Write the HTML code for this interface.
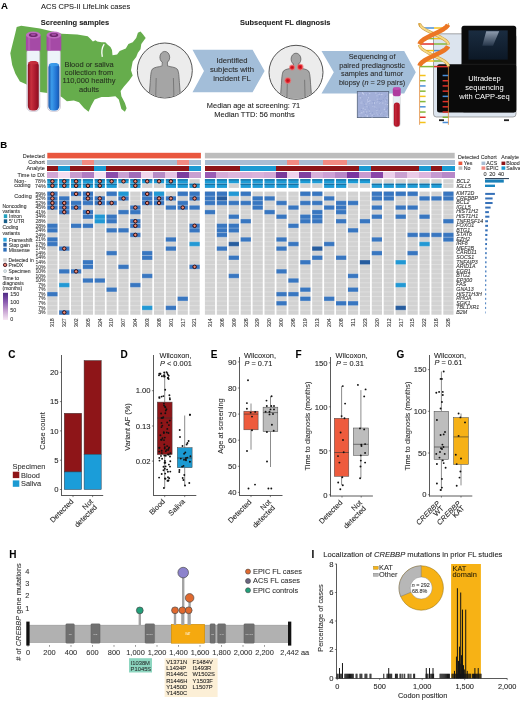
<!DOCTYPE html>
<html><head><meta charset="utf-8"><title>Figure</title>
<style>html,body{margin:0;padding:0;background:#fff;width:520px;height:701px;overflow:hidden}
svg{display:block;font-family:"Liberation Sans", Arial, sans-serif} text{stroke:#222;stroke-width:0.14px;stroke-opacity:0.55} text.w{stroke:none}</style></head>
<body><svg width="520" height="701" viewBox="0 0 520 701">
<rect width="520" height="701" fill="#fff"/>
<g id="A">
<text x="0.9" y="8.8" font-size="9.6" font-weight="bold">A</text>
<text x="41" y="9.3" font-size="7.5" fill="#222">ACS CPS-II LifeLink cases</text>
<text x="75" y="25.3" font-size="7.5" font-weight="bold" text-anchor="middle" fill="#222">Screening samples</text>
<text x="285.2" y="25.3" font-size="7.45" font-weight="bold" text-anchor="middle" fill="#222">Subsequent FL diagnosis</text>
<polygon fill="#66AD4C" points="16.7,27.0 21.2,25.8 40.0,28.5 61.7,33.7 77.3,34.5 87.7,36.2 90.3,38.8 92.9,41.4 95.5,40.2 97.2,41.4 101.5,42.3 105.3,42.3 107.5,44.5 110.5,47.0 112.0,50.0 112.5,55.3 117.1,54.4 119.7,51.0 125.8,48.4 128.4,44.0 132.7,42.3 136.2,38.0 137.9,32.8 140.5,31.6 143.1,34.5 145.7,38.0 143.1,41.4 141.3,44.0 140.5,49.2 137.9,52.7 136.2,57.0 132.7,61.5 131.0,70.2 132.7,75.4 129.2,80.6 124.0,86.6 120.6,91.0 121.4,96.2 124.9,103.1 126.6,108.3 124.9,111.7 121.4,109.1 118.8,99.6 115.4,96.2 108.5,97.0 101.5,97.0 94.6,99.6 91.2,105.7 88.6,111.7 84.2,108.3 79.0,102.2 73.8,100.5 66.9,101.3 61.7,97.0 55.0,94.0 40.0,92.0 25.6,84.1 19.9,81.5 15.4,73.8 12.2,64.9 10.3,53.3 12.2,45.6 15.4,32.8"/>
<path d="M104.2,44.2 C102,47.5 101.3,52 102.3,56.8" fill="none" stroke="#FFFFFF" stroke-width="1.3"/>
<defs><linearGradient id="tg1" x1="0" y1="0" x2="1" y2="0"><stop offset="0" stop-color="#861020"/><stop offset="0.3" stop-color="#C8303E"/><stop offset="0.75" stop-color="#A5162A"/><stop offset="1" stop-color="#861020"/></linearGradient></defs>
<rect x="26.8" y="48" width="13.0" height="63.3" rx="4.5" fill="#EDF3F9" stroke="#BBAFC0" stroke-width="0.6"/>
<rect x="27.8" y="61.0" width="11.0" height="49.6" rx="4.5" fill="url(#tg1)"/>
<ellipse cx="33.3" cy="62.8" rx="4.9" ry="1.6" fill="#C8303E" opacity="0.85"/>
<rect x="25.9" y="34.5" width="14.8" height="16.2" rx="1.5" fill="#A54AA6"/>
<rect x="27.9" y="34.5" width="2.2" height="16.2" fill="#B862B8" opacity="0.7"/>
<ellipse cx="33.3" cy="35.0" rx="7.4" ry="3.5" fill="#BE6EC0"/>
<ellipse cx="33.3" cy="35.0" rx="4.4" ry="2.0" fill="#70286F"/>
<ellipse cx="33.3" cy="34.7" rx="2.4" ry="1.1" fill="#A54AA6"/>
<defs><linearGradient id="tg2" x1="0" y1="0" x2="1" y2="0"><stop offset="0" stop-color="#1A55A8"/><stop offset="0.3" stop-color="#3C9CEB"/><stop offset="0.75" stop-color="#1F6FD0"/><stop offset="1" stop-color="#1A55A8"/></linearGradient></defs>
<rect x="47.4" y="48" width="13.0" height="63.3" rx="4.5" fill="#EDF3F9" stroke="#BBAFC0" stroke-width="0.6"/>
<rect x="48.4" y="62.9" width="11.0" height="47.7" rx="4.5" fill="url(#tg2)"/>
<ellipse cx="53.9" cy="64.7" rx="4.9" ry="1.6" fill="#3C9CEB" opacity="0.85"/>
<rect x="46.5" y="34.5" width="14.8" height="16.2" rx="1.5" fill="#A54AA6"/>
<rect x="48.5" y="34.5" width="2.2" height="16.2" fill="#B862B8" opacity="0.7"/>
<ellipse cx="53.9" cy="35.0" rx="7.4" ry="3.5" fill="#BE6EC0"/>
<ellipse cx="53.9" cy="35.0" rx="4.4" ry="2.0" fill="#70286F"/>
<ellipse cx="53.9" cy="34.7" rx="2.4" ry="1.1" fill="#A54AA6"/>
<text x="89" y="66.6" font-size="7.5" text-anchor="middle" fill="#27361F">Blood or saliva</text>
<text x="89" y="74.9" font-size="7.5" text-anchor="middle" fill="#27361F">collection from</text>
<text x="89" y="83.2" font-size="7.5" text-anchor="middle" fill="#27361F">110,000 healthy</text>
<text x="89" y="91.5" font-size="7.5" text-anchor="middle" fill="#27361F">adults</text>
<clipPath id="c164"><circle cx="0" cy="0" r="27.0"/></clipPath>
<circle cx="164.8" cy="70.5" r="27.5" fill="#ECECEC" stroke="#555555" stroke-width="1.0"/>
<g clip-path="url(#c164)" transform="translate(164.8,70.5)">
<path d="M-2.6,-8 L-2.6,-4.6 C-6,-3.4 -10.5,-3.6 -12.6,-1.2 C-14,1 -14.2,6 -14.6,12 L-16,30 L16,30 L14.6,12 C14.2,6 14,1 12.6,-1.2 C10.5,-3.6 6,-3.4 2.6,-4.6 L2.6,-8 Z" fill="#A5A5A5" stroke="#5A5A5A" stroke-width="0.75"/>
<ellipse cx="0" cy="-13.2" rx="4.9" ry="5.9" fill="#A5A5A5" stroke="#5A5A5A" stroke-width="0.75"/>
<path d="M-2.1,-8.5 L-2.1,-4.2 L2.1,-4.2 L2.1,-8.5Z" fill="#A5A5A5"/>
<path d="M-8.6,7.5 L-9.2,30 M8.6,7.5 L9.2,30" stroke="#5A5A5A" stroke-width="0.6" fill="none"/>
</g>
<clipPath id="c296"><circle cx="0" cy="0" r="26.5"/></clipPath>
<circle cx="296.0" cy="72.3" r="27.0" fill="#ECECEC" stroke="#555555" stroke-width="1.0"/>
<g clip-path="url(#c296)" transform="translate(296.0,72.3)">
<path d="M-2.6,-8 L-2.6,-4.6 C-6,-3.4 -10.5,-3.6 -12.6,-1.2 C-14,1 -14.2,6 -14.6,12 L-16,30 L16,30 L14.6,12 C14.2,6 14,1 12.6,-1.2 C10.5,-3.6 6,-3.4 2.6,-4.6 L2.6,-8 Z" fill="#A5A5A5" stroke="#5A5A5A" stroke-width="0.75"/>
<ellipse cx="0" cy="-13.2" rx="4.9" ry="5.9" fill="#A5A5A5" stroke="#5A5A5A" stroke-width="0.75"/>
<path d="M-2.1,-8.5 L-2.1,-4.2 L2.1,-4.2 L2.1,-8.5Z" fill="#A5A5A5"/>
<path d="M-8.6,7.5 L-9.2,30 M8.6,7.5 L9.2,30" stroke="#5A5A5A" stroke-width="0.6" fill="none"/>
<circle cx="-3.9" cy="-4.9" r="3.0" fill="#F26A6A" opacity="0.75"/>
<circle cx="-3.9" cy="-4.9" r="2.0" fill="#E3202A"/>
<circle cx="-3.9" cy="-4.9" r="0.9" fill="#B5121C"/>
<circle cx="4.2" cy="-5.2" r="3.3" fill="#F26A6A" opacity="0.75"/>
<circle cx="4.2" cy="-5.2" r="2.3" fill="#E3202A"/>
<circle cx="4.2" cy="-5.2" r="1.0" fill="#B5121C"/>
<circle cx="-8.2" cy="8.3" r="3.4" fill="#F26A6A" opacity="0.75"/>
<circle cx="-8.2" cy="8.3" r="2.4" fill="#E3202A"/>
<circle cx="-8.2" cy="8.3" r="1.1" fill="#B5121C"/>
</g>
<polygon fill="#A3BED9" points="192.5,49.8 252.6,49.8 264.6,71.0 252.6,92.3 192.5,92.3 204.0,71.0"/>
<polygon fill="#A3BED9" points="321.5,51.0 404.2,51.0 415.8,72.2 404.2,93.4 321.5,93.4 333.8,72.2"/>
<text x="232" y="63.0" font-size="7.7" text-anchor="middle" fill="#2B2B2B">Identified</text>
<text x="232" y="72.2" font-size="7.7" text-anchor="middle" fill="#2B2B2B">subjects with</text>
<text x="232" y="81.3" font-size="7.7" text-anchor="middle" fill="#2B2B2B">incident FL</text>
<text x="372.1" y="59.0" font-size="7.3" text-anchor="middle" fill="#2B2B2B">Sequencing of</text>
<text x="372.1" y="67.6" font-size="7.3" text-anchor="middle" fill="#2B2B2B">paired prediagnostic</text>
<text x="372.1" y="76.2" font-size="7.3" text-anchor="middle" fill="#2B2B2B">samples and tumor</text>
<text x="372.1" y="84.8" font-size="7.3" text-anchor="middle" fill="#2B2B2B">biopsy (<tspan font-style="italic">n</tspan> = 29 pairs)</text>
<text x="253.5" y="108.3" font-size="7.4" text-anchor="middle" fill="#222">Median age at screening: 71</text>
<text x="254.5" y="117.0" font-size="7.5" text-anchor="middle" fill="#222">Median TTD: 56 months</text>
<rect x="357.3" y="91.4" width="31.4" height="26.2" fill="#A2AFD8" stroke="#56657E" stroke-width="0.8"/>
<rect x="376.6" y="110.5" width="0.9" height="0.9" fill="#D0D8F0"/><rect x="359.1" y="103.7" width="0.9" height="0.9" fill="#B8C3E6"/><rect x="377.4" y="114.4" width="0.9" height="0.9" fill="#C4CDEC"/><rect x="369.2" y="113.6" width="0.9" height="0.9" fill="#95A3D0"/><rect x="374.3" y="106.4" width="0.9" height="0.9" fill="#C4CDEC"/><rect x="379.8" y="102.3" width="0.9" height="0.9" fill="#B8C3E6"/><rect x="385.3" y="111.1" width="0.9" height="0.9" fill="#B8C3E6"/><rect x="380.8" y="94.1" width="0.9" height="0.9" fill="#D0D8F0"/><rect x="376.5" y="95.4" width="0.9" height="0.9" fill="#C4CDEC"/><rect x="387.0" y="92.4" width="0.9" height="0.9" fill="#B8C3E6"/><rect x="386.6" y="96.4" width="0.9" height="0.9" fill="#B8C3E6"/><rect x="366.8" y="115.9" width="0.9" height="0.9" fill="#D0D8F0"/><rect x="384.1" y="107.6" width="0.9" height="0.9" fill="#B8C3E6"/><rect x="386.1" y="109.2" width="0.9" height="0.9" fill="#95A3D0"/><rect x="367.0" y="101.1" width="0.9" height="0.9" fill="#B8C3E6"/><rect x="385.9" y="98.8" width="0.9" height="0.9" fill="#8C9BCB"/><rect x="367.1" y="107.1" width="0.9" height="0.9" fill="#C4CDEC"/><rect x="375.8" y="109.6" width="0.9" height="0.9" fill="#C4CDEC"/><rect x="367.4" y="112.4" width="0.9" height="0.9" fill="#95A3D0"/><rect x="378.8" y="96.8" width="0.9" height="0.9" fill="#95A3D0"/><rect x="379.1" y="93.7" width="0.9" height="0.9" fill="#C4CDEC"/><rect x="386.3" y="101.1" width="0.9" height="0.9" fill="#95A3D0"/><rect x="358.7" y="111.6" width="0.9" height="0.9" fill="#8C9BCB"/><rect x="369.3" y="112.9" width="0.9" height="0.9" fill="#95A3D0"/><rect x="359.6" y="96.7" width="0.9" height="0.9" fill="#B8C3E6"/><rect x="361.7" y="98.3" width="0.9" height="0.9" fill="#95A3D0"/><rect x="368.4" y="101.0" width="0.9" height="0.9" fill="#D0D8F0"/><rect x="365.6" y="103.6" width="0.9" height="0.9" fill="#D0D8F0"/><rect x="380.4" y="111.8" width="0.9" height="0.9" fill="#8C9BCB"/><rect x="359.3" y="115.5" width="0.9" height="0.9" fill="#C4CDEC"/><rect x="364.4" y="104.9" width="0.9" height="0.9" fill="#8C9BCB"/><rect x="385.4" y="100.6" width="0.9" height="0.9" fill="#D0D8F0"/><rect x="360.9" y="109.1" width="0.9" height="0.9" fill="#8C9BCB"/><rect x="363.5" y="94.2" width="0.9" height="0.9" fill="#B8C3E6"/><rect x="379.5" y="99.9" width="0.9" height="0.9" fill="#95A3D0"/><rect x="363.0" y="93.5" width="0.9" height="0.9" fill="#D0D8F0"/><rect x="374.0" y="102.2" width="0.9" height="0.9" fill="#B8C3E6"/><rect x="380.1" y="100.7" width="0.9" height="0.9" fill="#8C9BCB"/><rect x="371.7" y="102.6" width="0.9" height="0.9" fill="#C4CDEC"/><rect x="387.2" y="107.9" width="0.9" height="0.9" fill="#95A3D0"/><rect x="368.1" y="97.4" width="0.9" height="0.9" fill="#D0D8F0"/><rect x="386.3" y="107.7" width="0.9" height="0.9" fill="#95A3D0"/><rect x="361.4" y="102.9" width="0.9" height="0.9" fill="#B8C3E6"/><rect x="359.9" y="102.6" width="0.9" height="0.9" fill="#B8C3E6"/><rect x="371.6" y="116.8" width="0.9" height="0.9" fill="#B8C3E6"/><rect x="387.1" y="103.4" width="0.9" height="0.9" fill="#95A3D0"/><rect x="378.6" y="100.1" width="0.9" height="0.9" fill="#8C9BCB"/><rect x="366.8" y="102.2" width="0.9" height="0.9" fill="#B8C3E6"/><rect x="361.5" y="112.4" width="0.9" height="0.9" fill="#D0D8F0"/><rect x="386.6" y="107.7" width="0.9" height="0.9" fill="#95A3D0"/><rect x="383.9" y="96.7" width="0.9" height="0.9" fill="#95A3D0"/><rect x="366.3" y="111.5" width="0.9" height="0.9" fill="#D0D8F0"/><rect x="368.9" y="111.6" width="0.9" height="0.9" fill="#8C9BCB"/><rect x="378.8" y="108.6" width="0.9" height="0.9" fill="#8C9BCB"/><rect x="369.0" y="109.6" width="0.9" height="0.9" fill="#8C9BCB"/><rect x="382.9" y="98.8" width="0.9" height="0.9" fill="#8C9BCB"/><rect x="386.5" y="100.6" width="0.9" height="0.9" fill="#B8C3E6"/><rect x="375.4" y="92.6" width="0.9" height="0.9" fill="#D0D8F0"/><rect x="381.1" y="100.3" width="0.9" height="0.9" fill="#8C9BCB"/><rect x="371.9" y="112.3" width="0.9" height="0.9" fill="#8C9BCB"/><rect x="368.5" y="108.1" width="0.9" height="0.9" fill="#95A3D0"/><rect x="368.6" y="113.0" width="0.9" height="0.9" fill="#95A3D0"/><rect x="387.1" y="115.7" width="0.9" height="0.9" fill="#D0D8F0"/><rect x="362.4" y="116.3" width="0.9" height="0.9" fill="#B8C3E6"/><rect x="383.0" y="115.3" width="0.9" height="0.9" fill="#95A3D0"/><rect x="366.6" y="94.2" width="0.9" height="0.9" fill="#95A3D0"/><rect x="363.3" y="111.4" width="0.9" height="0.9" fill="#D0D8F0"/><rect x="373.5" y="115.2" width="0.9" height="0.9" fill="#8C9BCB"/><rect x="376.7" y="111.3" width="0.9" height="0.9" fill="#8C9BCB"/><rect x="379.5" y="93.0" width="0.9" height="0.9" fill="#B8C3E6"/><rect x="375.6" y="107.6" width="0.9" height="0.9" fill="#B8C3E6"/><rect x="364.7" y="109.1" width="0.9" height="0.9" fill="#C4CDEC"/><rect x="387.4" y="116.3" width="0.9" height="0.9" fill="#B8C3E6"/><rect x="359.8" y="95.6" width="0.9" height="0.9" fill="#8C9BCB"/><rect x="386.9" y="104.1" width="0.9" height="0.9" fill="#D0D8F0"/><rect x="359.3" y="103.7" width="0.9" height="0.9" fill="#95A3D0"/><rect x="377.8" y="94.1" width="0.9" height="0.9" fill="#B8C3E6"/><rect x="365.2" y="114.4" width="0.9" height="0.9" fill="#C4CDEC"/><rect x="368.6" y="115.6" width="0.9" height="0.9" fill="#95A3D0"/><rect x="383.8" y="109.2" width="0.9" height="0.9" fill="#D0D8F0"/><rect x="369.3" y="93.2" width="0.9" height="0.9" fill="#D0D8F0"/><rect x="367.1" y="99.5" width="0.9" height="0.9" fill="#D0D8F0"/><rect x="368.2" y="106.5" width="0.9" height="0.9" fill="#8C9BCB"/><rect x="382.4" y="102.6" width="0.9" height="0.9" fill="#D0D8F0"/><rect x="377.2" y="101.4" width="0.9" height="0.9" fill="#B8C3E6"/><rect x="362.8" y="101.7" width="0.9" height="0.9" fill="#95A3D0"/><rect x="386.5" y="116.0" width="0.9" height="0.9" fill="#D0D8F0"/><rect x="360.9" y="112.4" width="0.9" height="0.9" fill="#C4CDEC"/><rect x="369.5" y="100.3" width="0.9" height="0.9" fill="#D0D8F0"/><rect x="374.2" y="100.3" width="0.9" height="0.9" fill="#D0D8F0"/><rect x="369.3" y="102.9" width="0.9" height="0.9" fill="#B8C3E6"/><rect x="372.8" y="104.0" width="0.9" height="0.9" fill="#95A3D0"/><rect x="369.6" y="113.2" width="0.9" height="0.9" fill="#B8C3E6"/><rect x="375.8" y="98.7" width="0.9" height="0.9" fill="#8C9BCB"/><rect x="372.9" y="102.5" width="0.9" height="0.9" fill="#8C9BCB"/><rect x="386.2" y="99.8" width="0.9" height="0.9" fill="#8C9BCB"/><rect x="362.4" y="92.9" width="0.9" height="0.9" fill="#D0D8F0"/><rect x="386.6" y="98.3" width="0.9" height="0.9" fill="#C4CDEC"/><rect x="381.3" y="112.6" width="0.9" height="0.9" fill="#C4CDEC"/><rect x="372.4" y="106.0" width="0.9" height="0.9" fill="#B8C3E6"/><rect x="385.9" y="111.5" width="0.9" height="0.9" fill="#B8C3E6"/><rect x="372.7" y="113.0" width="0.9" height="0.9" fill="#8C9BCB"/><rect x="366.9" y="107.2" width="0.9" height="0.9" fill="#95A3D0"/><rect x="373.5" y="113.5" width="0.9" height="0.9" fill="#C4CDEC"/><rect x="358.7" y="95.4" width="0.9" height="0.9" fill="#8C9BCB"/><rect x="374.0" y="100.5" width="0.9" height="0.9" fill="#8C9BCB"/><rect x="379.8" y="93.0" width="0.9" height="0.9" fill="#8C9BCB"/><rect x="368.9" y="110.6" width="0.9" height="0.9" fill="#D0D8F0"/><rect x="362.1" y="92.4" width="0.9" height="0.9" fill="#D0D8F0"/><rect x="371.7" y="114.8" width="0.9" height="0.9" fill="#D0D8F0"/><rect x="363.9" y="102.8" width="0.9" height="0.9" fill="#95A3D0"/><rect x="375.8" y="109.2" width="0.9" height="0.9" fill="#95A3D0"/><rect x="383.6" y="112.9" width="0.9" height="0.9" fill="#95A3D0"/><rect x="369.8" y="113.2" width="0.9" height="0.9" fill="#B8C3E6"/><rect x="384.8" y="103.7" width="0.9" height="0.9" fill="#C4CDEC"/><rect x="367.2" y="92.4" width="0.9" height="0.9" fill="#95A3D0"/><rect x="375.4" y="108.2" width="0.9" height="0.9" fill="#95A3D0"/><rect x="385.2" y="95.8" width="0.9" height="0.9" fill="#95A3D0"/><rect x="378.8" y="114.1" width="0.9" height="0.9" fill="#8C9BCB"/><rect x="374.1" y="102.7" width="0.9" height="0.9" fill="#D0D8F0"/><rect x="382.2" y="94.0" width="0.9" height="0.9" fill="#B8C3E6"/><rect x="366.1" y="94.4" width="0.9" height="0.9" fill="#C4CDEC"/><rect x="377.8" y="92.9" width="0.9" height="0.9" fill="#95A3D0"/><rect x="387.2" y="116.8" width="0.9" height="0.9" fill="#95A3D0"/><rect x="359.6" y="112.9" width="0.9" height="0.9" fill="#B8C3E6"/><rect x="376.4" y="112.5" width="0.9" height="0.9" fill="#C4CDEC"/><rect x="379.3" y="95.6" width="0.9" height="0.9" fill="#8C9BCB"/><rect x="379.1" y="103.0" width="0.9" height="0.9" fill="#B8C3E6"/><rect x="376.3" y="102.4" width="0.9" height="0.9" fill="#B8C3E6"/><rect x="360.2" y="97.5" width="0.9" height="0.9" fill="#D0D8F0"/><rect x="361.4" y="101.6" width="0.9" height="0.9" fill="#C4CDEC"/><rect x="366.5" y="106.3" width="0.9" height="0.9" fill="#C4CDEC"/><rect x="380.2" y="113.8" width="0.9" height="0.9" fill="#B8C3E6"/><rect x="358.5" y="94.5" width="0.9" height="0.9" fill="#D0D8F0"/><rect x="372.7" y="101.0" width="0.9" height="0.9" fill="#8C9BCB"/><rect x="385.3" y="95.7" width="0.9" height="0.9" fill="#8C9BCB"/><rect x="362.7" y="107.8" width="0.9" height="0.9" fill="#D0D8F0"/><rect x="366.8" y="115.4" width="0.9" height="0.9" fill="#D0D8F0"/><rect x="376.6" y="98.7" width="0.9" height="0.9" fill="#D0D8F0"/><rect x="365.2" y="112.7" width="0.9" height="0.9" fill="#8C9BCB"/>
<rect x="393.2" y="94" width="7.2" height="33" rx="3.4" fill="#E4EEF4" stroke="#C8C8C8" stroke-width="0.4"/>
<rect x="393.8" y="102.6" width="6.0" height="24.2" rx="3.0" fill="#B3172A"/>
<rect x="395.2" y="104" width="1.3" height="21" fill="#C83040" opacity="0.8"/>
<rect x="392.8" y="87.6" width="7.9" height="8.7" rx="2" fill="#AE3A9E"/>
<ellipse cx="396.75" cy="88.6" rx="3.9" ry="1.4" fill="#C050B0"/>
<rect x="433.5" y="33.8" width="82.5" height="83.2" rx="3" fill="#DCE4EE" stroke="#6E6E6E" stroke-width="0.6"/>
<rect x="461.5" y="25.8" width="54.7" height="86.5" rx="2.5" fill="#0A0A0A"/>
<rect x="437" y="64.3" width="79.2" height="48.3" rx="2.5" fill="#0A0A0A"/>
<line x1="461.5" y1="64.3" x2="516" y2="64.3" stroke="#2A2A2A" stroke-width="0.6"/>
<defs><linearGradient id="scr" x1="0" y1="0" x2="0" y2="1"><stop offset="0" stop-color="#1A2C40"/><stop offset="1" stop-color="#0C1826"/></linearGradient><linearGradient id="hl" x1="0" y1="0" x2="0" y2="1"><stop offset="0" stop-color="#8E9CAE"/><stop offset="1" stop-color="#26364A"/></linearGradient></defs>
<rect x="468.5" y="30.4" width="39.2" height="29.2" fill="url(#scr)"/>
<polygon points="486.2,31.2 499.2,31.2 493,45.8 482.3,45.8" fill="url(#hl)"/>
<rect x="439" y="119.3" width="5" height="1.8" fill="#222"/><rect x="504" y="119.3" width="5" height="1.8" fill="#222"/>
<text x="484.5" y="80.8" font-size="7.5" text-anchor="middle" fill="#FFFFFF" class="w">Ultradeep</text>
<text x="484.5" y="89.8" font-size="7.5" text-anchor="middle" fill="#FFFFFF" class="w">sequencing</text>
<text x="484.5" y="98.8" font-size="7.5" text-anchor="middle" fill="#FFFFFF" class="w">with CAPP-seq</text>
<line x1="422.97" y1="28.00" x2="434.00" y2="28.00" stroke="#4A8FD8" stroke-width="1.5"/>
<line x1="434.00" y1="28.00" x2="445.03" y2="28.00" stroke="#F4C21C" stroke-width="1.5"/>
<line x1="432.33" y1="33.20" x2="434.00" y2="33.20" stroke="#F4C21C" stroke-width="1.5"/>
<line x1="434.00" y1="33.20" x2="435.67" y2="33.20" stroke="#86B83A" stroke-width="1.5"/>
<line x1="425.07" y1="38.60" x2="434.00" y2="38.60" stroke="#86B83A" stroke-width="1.5"/>
<line x1="434.00" y1="38.60" x2="442.93" y2="38.60" stroke="#F4C21C" stroke-width="1.5"/>
<line x1="419.70" y1="44.00" x2="434.00" y2="44.00" stroke="#E0302A" stroke-width="1.5"/>
<line x1="434.00" y1="44.00" x2="448.30" y2="44.00" stroke="#86B83A" stroke-width="1.5"/>
<line x1="424.43" y1="50.60" x2="434.00" y2="50.60" stroke="#F4C21C" stroke-width="1.5"/>
<line x1="434.00" y1="50.60" x2="443.57" y2="50.60" stroke="#4A8FD8" stroke-width="1.5"/>
<line x1="423.82" y1="61.00" x2="434.00" y2="61.00" stroke="#F4C21C" stroke-width="1.5"/>
<line x1="434.00" y1="61.00" x2="444.18" y2="61.00" stroke="#86B83A" stroke-width="1.5"/>
<line x1="419.61" y1="66.60" x2="434.00" y2="66.60" stroke="#86B83A" stroke-width="1.5"/>
<line x1="434.00" y1="66.60" x2="448.39" y2="66.60" stroke="#E0302A" stroke-width="1.5"/>
<polyline fill="none" stroke="#C9963E" stroke-width="3.0" points="419.60,23.20 419.64,23.70 419.75,24.20 419.94,24.70 420.20,25.20 420.54,25.70 420.95,26.20 421.43,26.70 421.97,27.20 422.58,27.70 423.24,28.20 423.97,28.70 424.74,29.20 425.57,29.70 426.44,30.20 427.35,30.70 428.30,31.20 429.27,31.70 430.27,32.20 431.29,32.70 432.33,33.20 433.37,33.70 434.42,34.20 435.46,34.70 436.50,35.20 437.52,35.70 438.53,36.20 439.51,36.70 440.46,37.20 441.38,37.70 442.26,38.20 443.09,38.70 443.88,39.20 444.62,39.70 445.30,40.20 445.91,40.70 446.47,41.20 446.96,41.70 447.38,42.20 447.73,42.70 448.01,43.20 448.22,43.70 448.35,44.20 448.40,44.70"/>
<polyline fill="none" stroke="#F7D982" stroke-width="2.0" points="419.60,23.20 419.64,23.70 419.75,24.20 419.94,24.70 420.20,25.20 420.54,25.70 420.95,26.20 421.43,26.70 421.97,27.20 422.58,27.70 423.24,28.20 423.97,28.70 424.74,29.20 425.57,29.70 426.44,30.20 427.35,30.70 428.30,31.20 429.27,31.70 430.27,32.20 431.29,32.70 432.33,33.20 433.37,33.70 434.42,34.20 435.46,34.70 436.50,35.20 437.52,35.70 438.53,36.20 439.51,36.70 440.46,37.20 441.38,37.70 442.26,38.20 443.09,38.70 443.88,39.20 444.62,39.70 445.30,40.20 445.91,40.70 446.47,41.20 446.96,41.70 447.38,42.20 447.73,42.70 448.01,43.20 448.22,43.70 448.35,44.20 448.40,44.70"/>
<polyline fill="none" stroke="#C9963E" stroke-width="3.0" points="419.60,44.80 419.64,45.30 419.75,45.80 419.94,46.30 420.20,46.80 420.54,47.30 420.95,47.80 421.43,48.30 421.97,48.80 422.58,49.30 423.24,49.80 423.97,50.30 424.74,50.80 425.57,51.30 426.44,51.80 427.35,52.30 428.30,52.80 429.27,53.30 430.27,53.80 431.29,54.30 432.33,54.80 433.37,55.30 434.42,55.80 435.46,56.30 436.50,56.80 437.52,57.30 438.53,57.80 439.51,58.30 440.46,58.80 441.38,59.30 442.26,59.80 443.09,60.30 443.88,60.80 444.62,61.30 445.30,61.80 445.91,62.30 446.47,62.80 446.96,63.30 447.38,63.80 447.73,64.30 448.01,64.80 448.22,65.30 448.35,65.80 448.40,66.30"/>
<polyline fill="none" stroke="#F7D982" stroke-width="2.0" points="419.60,44.80 419.64,45.30 419.75,45.80 419.94,46.30 420.20,46.80 420.54,47.30 420.95,47.80 421.43,48.30 421.97,48.80 422.58,49.30 423.24,49.80 423.97,50.30 424.74,50.80 425.57,51.30 426.44,51.80 427.35,52.30 428.30,52.80 429.27,53.30 430.27,53.80 431.29,54.30 432.33,54.80 433.37,55.30 434.42,55.80 435.46,56.30 436.50,56.80 437.52,57.30 438.53,57.80 439.51,58.30 440.46,58.80 441.38,59.30 442.26,59.80 443.09,60.30 443.88,60.80 444.62,61.30 445.30,61.80 445.91,62.30 446.47,62.80 446.96,63.30 447.38,63.80 447.73,64.30 448.01,64.80 448.22,65.30 448.35,65.80 448.40,66.30"/>
<line x1="419.6" y1="66.4" x2="419.6" y2="124.8" stroke="#E08A3A" stroke-width="0.8"/>
<line x1="448.4" y1="66.4" x2="448.4" y2="124.8" stroke="#E08A3A" stroke-width="0.8"/>
<line x1="419.6" y1="23" x2="419.6" y2="27" stroke="#D49A3A" stroke-width="0.8"/>
<line x1="448.4" y1="23" x2="448.4" y2="27" stroke="#D49A3A" stroke-width="0.8"/>
<polyline fill="none" stroke="#EC7624" stroke-width="4.6" stroke-linecap="butt" points="448.06,24.70 447.80,25.20 447.46,25.70 447.05,26.20 446.57,26.70 446.03,27.20 445.42,27.70 444.76,28.20 444.03,28.70 443.26,29.20 442.43,29.70 441.56,30.20 440.65,30.70 439.70,31.20 438.73,31.70 437.73,32.20 436.71,32.70 435.67,33.20 434.63,33.70 433.58,34.20 432.54,34.70 431.50,35.20 430.48,35.70 429.47,36.20 428.49,36.70 427.54,37.20 426.62,37.70 425.74,38.20 424.91,38.70 424.12,39.20 423.38,39.70 422.70,40.20 422.09,40.70 421.53,41.20 421.04,41.70 420.62,42.20 420.27,42.70 419.99,43.20 419.78,43.70 419.65,44.20"/>
<polyline fill="none" stroke="#EC7624" stroke-width="4.6" stroke-linecap="butt" points="448.06,46.30 447.80,46.80 447.46,47.30 447.05,47.80 446.57,48.30 446.03,48.80 445.42,49.30 444.76,49.80 444.03,50.30 443.26,50.80 442.43,51.30 441.56,51.80 440.65,52.30 439.70,52.80 438.73,53.30 437.73,53.80 436.71,54.30 435.67,54.80 434.63,55.30 433.58,55.80 432.54,56.30 431.50,56.80 430.48,57.30 429.47,57.80 428.49,58.30 427.54,58.80 426.62,59.30 425.74,59.80 424.91,60.30 424.12,60.80 423.38,61.30 422.70,61.80 422.09,62.30 421.53,62.80 421.04,63.30 420.62,63.80 420.27,64.30 419.99,64.80 419.78,65.30 419.65,65.80"/>
<line x1="420" y1="75.50" x2="425.6" y2="75.50" stroke="#F4C21C" stroke-width="1.5"/>
<line x1="442.6" y1="75.50" x2="448.2" y2="75.50" stroke="#4A8FD8" stroke-width="1.5"/>
<line x1="420" y1="80.72" x2="425.6" y2="80.72" stroke="#86B83A" stroke-width="1.5"/>
<line x1="442.6" y1="80.72" x2="448.2" y2="80.72" stroke="#E0302A" stroke-width="1.5"/>
<line x1="420" y1="85.94" x2="425.6" y2="85.94" stroke="#4A8FD8" stroke-width="1.5"/>
<line x1="442.6" y1="85.94" x2="448.2" y2="85.94" stroke="#E0302A" stroke-width="1.5"/>
<line x1="420" y1="91.16" x2="425.6" y2="91.16" stroke="#86B83A" stroke-width="1.5"/>
<line x1="442.6" y1="91.16" x2="448.2" y2="91.16" stroke="#E0302A" stroke-width="1.5"/>
<line x1="420" y1="96.38" x2="425.6" y2="96.38" stroke="#F4C21C" stroke-width="1.5"/>
<line x1="442.6" y1="96.38" x2="448.2" y2="96.38" stroke="#4A8FD8" stroke-width="1.5"/>
<line x1="420" y1="101.60" x2="425.6" y2="101.60" stroke="#86B83A" stroke-width="1.5"/>
<line x1="442.6" y1="101.60" x2="448.2" y2="101.60" stroke="#E0302A" stroke-width="1.5"/>
<line x1="420" y1="106.82" x2="425.6" y2="106.82" stroke="#4A8FD8" stroke-width="1.5"/>
<line x1="442.6" y1="106.82" x2="448.2" y2="106.82" stroke="#E0302A" stroke-width="1.5"/>
<line x1="420" y1="112.04" x2="425.6" y2="112.04" stroke="#86B83A" stroke-width="1.5"/>
<line x1="442.6" y1="112.04" x2="448.2" y2="112.04" stroke="#E0302A" stroke-width="1.5"/>
<line x1="420" y1="117.26" x2="425.6" y2="117.26" stroke="#E0302A" stroke-width="1.5"/>
<line x1="442.6" y1="117.26" x2="448.2" y2="117.26" stroke="#86B83A" stroke-width="1.5"/>
<line x1="420" y1="122.48" x2="425.6" y2="122.48" stroke="#F4C21C" stroke-width="1.5"/>
<line x1="442.6" y1="122.48" x2="448.2" y2="122.48" stroke="#4A8FD8" stroke-width="1.5"/>
</g>
<g id="B">
<text x="0.2" y="147.5" font-size="9.6" font-weight="bold">B</text>
<text x="44.8" y="157.6" font-size="5.5" text-anchor="end" fill="#333">Detected</text>
<text x="44.8" y="163.9" font-size="5.5" text-anchor="end" fill="#333">Cohort</text>
<text x="44.8" y="170.4" font-size="5.5" text-anchor="end" fill="#333">Analyte</text>
<text x="44.8" y="176.9" font-size="5.5" text-anchor="end" fill="#333">Time to DX</text>
<rect x="47.3" y="152.8" width="153.6" height="5.6" fill="#E9573E"/>
<rect x="204.9" y="152.8" width="249.8" height="5.6" fill="#BDBDBD"/>
<rect x="47.30" y="159.60" width="34.75" height="5.30" fill="#A9BDD3" shape-rendering="crispEdges"/>
<rect x="82.00" y="159.60" width="11.90" height="5.30" fill="#F28A82" shape-rendering="crispEdges"/>
<rect x="93.85" y="159.60" width="83.00" height="5.30" fill="#A9BDD3" shape-rendering="crispEdges"/>
<rect x="176.80" y="159.60" width="11.90" height="5.30" fill="#F28A82" shape-rendering="crispEdges"/>
<rect x="188.65" y="159.60" width="12.25" height="5.30" fill="#A9BDD3" shape-rendering="crispEdges"/>
<rect x="204.90" y="159.60" width="82.57" height="5.30" fill="#A9BDD3" shape-rendering="crispEdges"/>
<rect x="287.49" y="159.60" width="11.90" height="5.30" fill="#F28A82" shape-rendering="crispEdges"/>
<rect x="299.41" y="159.60" width="23.82" height="5.30" fill="#A9BDD3" shape-rendering="crispEdges"/>
<rect x="323.25" y="159.60" width="23.82" height="5.30" fill="#F28A82" shape-rendering="crispEdges"/>
<rect x="347.09" y="159.60" width="107.61" height="5.30" fill="#A9BDD3" shape-rendering="crispEdges"/>
<rect x="47.30" y="165.90" width="11.05" height="5.30" fill="#8E1518" shape-rendering="crispEdges"/>
<rect x="58.30" y="165.90" width="11.90" height="5.30" fill="#1B9AD2" shape-rendering="crispEdges"/>
<rect x="70.15" y="165.90" width="23.75" height="5.30" fill="#8E1518" shape-rendering="crispEdges"/>
<rect x="93.85" y="165.90" width="11.90" height="5.30" fill="#1B9AD2" shape-rendering="crispEdges"/>
<rect x="105.70" y="165.90" width="83.00" height="5.30" fill="#8E1518" shape-rendering="crispEdges"/>
<rect x="188.65" y="165.90" width="12.25" height="5.30" fill="#1B9AD2" shape-rendering="crispEdges"/>
<rect x="204.90" y="165.90" width="34.89" height="5.30" fill="#8E1518" shape-rendering="crispEdges"/>
<rect x="239.81" y="165.90" width="35.74" height="5.30" fill="#1B9AD2" shape-rendering="crispEdges"/>
<rect x="275.57" y="165.90" width="83.42" height="5.30" fill="#8E1518" shape-rendering="crispEdges"/>
<rect x="359.01" y="165.90" width="11.90" height="5.30" fill="#1B9AD2" shape-rendering="crispEdges"/>
<rect x="370.93" y="165.90" width="47.66" height="5.30" fill="#8E1518" shape-rendering="crispEdges"/>
<rect x="418.61" y="165.90" width="11.90" height="5.30" fill="#1B9AD2" shape-rendering="crispEdges"/>
<rect x="430.53" y="165.90" width="11.90" height="5.30" fill="#8E1518" shape-rendering="crispEdges"/>
<rect x="442.45" y="165.90" width="12.25" height="5.30" fill="#1B9AD2" shape-rendering="crispEdges"/>
<rect x="47.30" y="172.40" width="11.05" height="5.30" fill="#D2A6D6" shape-rendering="crispEdges"/>
<rect x="58.30" y="172.40" width="11.90" height="5.30" fill="#F4DDF0" shape-rendering="crispEdges"/>
<rect x="70.15" y="172.40" width="11.90" height="5.30" fill="#C89BCF" shape-rendering="crispEdges"/>
<rect x="82.00" y="172.40" width="11.90" height="5.30" fill="#B07CC2" shape-rendering="crispEdges"/>
<rect x="93.85" y="172.40" width="11.90" height="5.30" fill="#F5E1F2" shape-rendering="crispEdges"/>
<rect x="105.70" y="172.40" width="11.90" height="5.30" fill="#8A4CAA" shape-rendering="crispEdges"/>
<rect x="117.55" y="172.40" width="11.90" height="5.30" fill="#C9A0D2" shape-rendering="crispEdges"/>
<rect x="129.40" y="172.40" width="11.90" height="5.30" fill="#A06CB8" shape-rendering="crispEdges"/>
<rect x="141.25" y="172.40" width="11.90" height="5.30" fill="#F0D6EC" shape-rendering="crispEdges"/>
<rect x="153.10" y="172.40" width="11.90" height="5.30" fill="#B68BC6" shape-rendering="crispEdges"/>
<rect x="164.95" y="172.40" width="11.90" height="5.30" fill="#E6C4E4" shape-rendering="crispEdges"/>
<rect x="176.80" y="172.40" width="11.90" height="5.30" fill="#7B3E9E" shape-rendering="crispEdges"/>
<rect x="188.65" y="172.40" width="12.25" height="5.30" fill="#C8A0D0" shape-rendering="crispEdges"/>
<rect x="204.90" y="172.40" width="11.05" height="5.30" fill="#9A5CB4" shape-rendering="crispEdges"/>
<rect x="215.97" y="172.40" width="11.90" height="5.30" fill="#D6ACD8" shape-rendering="crispEdges"/>
<rect x="227.89" y="172.40" width="11.90" height="5.30" fill="#DDB6DD" shape-rendering="crispEdges"/>
<rect x="239.81" y="172.40" width="11.90" height="5.30" fill="#D8AED9" shape-rendering="crispEdges"/>
<rect x="251.73" y="172.40" width="11.90" height="5.30" fill="#DAB2DA" shape-rendering="crispEdges"/>
<rect x="263.65" y="172.40" width="11.90" height="5.30" fill="#D4AAD6" shape-rendering="crispEdges"/>
<rect x="275.57" y="172.40" width="11.90" height="5.30" fill="#7A3A9A" shape-rendering="crispEdges"/>
<rect x="287.49" y="172.40" width="11.90" height="5.30" fill="#EFD2EC" shape-rendering="crispEdges"/>
<rect x="299.41" y="172.40" width="11.90" height="5.30" fill="#8040A0" shape-rendering="crispEdges"/>
<rect x="311.33" y="172.40" width="11.90" height="5.30" fill="#D8B0DA" shape-rendering="crispEdges"/>
<rect x="323.25" y="172.40" width="11.90" height="5.30" fill="#CDA0D5" shape-rendering="crispEdges"/>
<rect x="335.17" y="172.40" width="11.90" height="5.30" fill="#B888C8" shape-rendering="crispEdges"/>
<rect x="347.09" y="172.40" width="11.90" height="5.30" fill="#7A35A0" shape-rendering="crispEdges"/>
<rect x="359.01" y="172.40" width="11.90" height="5.30" fill="#C89BCF" shape-rendering="crispEdges"/>
<rect x="370.93" y="172.40" width="11.90" height="5.30" fill="#8A45A8" shape-rendering="crispEdges"/>
<rect x="382.85" y="172.40" width="11.90" height="5.30" fill="#ECCFEA" shape-rendering="crispEdges"/>
<rect x="394.77" y="172.40" width="11.90" height="5.30" fill="#C9A0D0" shape-rendering="crispEdges"/>
<rect x="406.69" y="172.40" width="11.90" height="5.30" fill="#EACBE8" shape-rendering="crispEdges"/>
<rect x="418.61" y="172.40" width="11.90" height="5.30" fill="#DDB5DD" shape-rendering="crispEdges"/>
<rect x="430.53" y="172.40" width="11.90" height="5.30" fill="#C59AD0" shape-rendering="crispEdges"/>
<rect x="442.45" y="172.40" width="12.25" height="5.30" fill="#B888C8" shape-rendering="crispEdges"/>
<rect x="47.30" y="179.20" width="10.20" height="4.2" fill="#1E9CD6"/>
<rect x="47.30" y="179.20" width="10.20" height="1.3" fill="#1A72A4"/>
<rect x="47.30" y="183.70" width="10.20" height="4.2" fill="#1E9CD6"/>
<rect x="47.30" y="183.70" width="10.20" height="1.3" fill="#1A72A4"/>
<circle cx="52.40" cy="181.30" r="1.75" fill="#EB8A72" stroke="#2E0A10" stroke-width="1.0"/>
<circle cx="52.40" cy="185.80" r="1.75" fill="#EB8A72" stroke="#2E0A10" stroke-width="1.0"/>
<rect x="59.15" y="179.20" width="10.20" height="4.2" fill="#1E9CD6"/>
<rect x="59.15" y="179.20" width="10.20" height="1.3" fill="#1A72A4"/>
<rect x="59.15" y="183.70" width="10.20" height="4.2" fill="#1E9CD6"/>
<rect x="59.15" y="183.70" width="10.20" height="1.3" fill="#1A72A4"/>
<circle cx="64.25" cy="181.30" r="1.75" fill="#EB8A72" stroke="#2E0A10" stroke-width="1.0"/>
<circle cx="64.25" cy="185.80" r="1.75" fill="#EB8A72" stroke="#2E0A10" stroke-width="1.0"/>
<rect x="71.00" y="179.20" width="10.20" height="4.2" fill="#1E9CD6"/>
<rect x="71.00" y="179.20" width="10.20" height="1.3" fill="#1A72A4"/>
<rect x="71.00" y="183.70" width="10.20" height="4.2" fill="#1E9CD6"/>
<rect x="71.00" y="183.70" width="10.20" height="1.3" fill="#1A72A4"/>
<circle cx="76.10" cy="181.30" r="1.75" fill="#EB8A72" stroke="#2E0A10" stroke-width="1.0"/>
<circle cx="76.10" cy="185.80" r="1.75" fill="#EB8A72" stroke="#2E0A10" stroke-width="1.0"/>
<rect x="82.85" y="179.20" width="10.20" height="4.2" fill="#1E9CD6"/>
<rect x="82.85" y="179.20" width="10.20" height="1.3" fill="#1A72A4"/>
<rect x="82.85" y="183.70" width="10.20" height="4.2" fill="#1E9CD6"/>
<rect x="82.85" y="183.70" width="10.20" height="1.3" fill="#1A72A4"/>
<circle cx="87.95" cy="185.80" r="1.75" fill="#EB8A72" stroke="#2E0A10" stroke-width="1.0"/>
<rect x="94.70" y="179.20" width="10.20" height="4.2" fill="#1E9CD6"/>
<rect x="94.70" y="179.20" width="10.20" height="1.3" fill="#1A72A4"/>
<rect x="94.70" y="183.70" width="10.20" height="4.2" fill="#1E9CD6"/>
<rect x="94.70" y="183.70" width="10.20" height="1.3" fill="#1A72A4"/>
<circle cx="99.80" cy="181.30" r="1.75" fill="#EB8A72" stroke="#2E0A10" stroke-width="1.0"/>
<circle cx="99.80" cy="185.80" r="1.75" fill="#EB8A72" stroke="#2E0A10" stroke-width="1.0"/>
<rect x="106.55" y="179.20" width="10.20" height="4.2" fill="#1E9CD6"/>
<rect x="106.55" y="179.20" width="10.20" height="1.3" fill="#1A72A4"/>
<rect x="106.55" y="183.70" width="10.20" height="4.2" fill="#1E9CD6"/>
<rect x="106.55" y="183.70" width="10.20" height="1.3" fill="#1A72A4"/>
<circle cx="111.65" cy="181.30" r="1.75" fill="#EB8A72" stroke="#2E0A10" stroke-width="1.0"/>
<rect x="118.40" y="179.20" width="10.20" height="4.2" fill="#1E9CD6"/>
<rect x="118.40" y="179.20" width="10.20" height="1.3" fill="#1A72A4"/>
<rect x="118.40" y="183.70" width="10.20" height="4.2" fill="#D2D2D2"/>
<circle cx="123.50" cy="181.30" r="1.75" fill="#EB8A72" stroke="#2E0A10" stroke-width="1.0"/>
<rect x="130.25" y="179.20" width="10.20" height="4.2" fill="#1E9CD6"/>
<rect x="130.25" y="179.20" width="10.20" height="1.3" fill="#1A72A4"/>
<rect x="130.25" y="183.70" width="10.20" height="4.2" fill="#1E9CD6"/>
<rect x="130.25" y="183.70" width="10.20" height="1.3" fill="#1A72A4"/>
<circle cx="135.35" cy="181.30" r="1.75" fill="#EB8A72" stroke="#2E0A10" stroke-width="1.0"/>
<circle cx="135.35" cy="185.80" r="1.75" fill="#EB8A72" stroke="#2E0A10" stroke-width="1.0"/>
<rect x="142.10" y="179.20" width="10.20" height="4.2" fill="#1E9CD6"/>
<rect x="142.10" y="179.20" width="10.20" height="1.3" fill="#1A72A4"/>
<rect x="142.10" y="183.70" width="10.20" height="4.2" fill="#D2D2D2"/>
<circle cx="147.20" cy="181.30" r="1.75" fill="#EB8A72" stroke="#2E0A10" stroke-width="1.0"/>
<rect x="153.95" y="179.20" width="10.20" height="4.2" fill="#1E9CD6"/>
<rect x="153.95" y="179.20" width="10.20" height="1.3" fill="#1A72A4"/>
<rect x="153.95" y="183.70" width="10.20" height="4.2" fill="#D2D2D2"/>
<circle cx="159.05" cy="181.30" r="1.75" fill="#EB8A72" stroke="#2E0A10" stroke-width="1.0"/>
<rect x="165.80" y="179.20" width="10.20" height="4.2" fill="#1E9CD6"/>
<rect x="165.80" y="179.20" width="10.20" height="1.3" fill="#1A72A4"/>
<rect x="165.80" y="183.70" width="10.20" height="4.2" fill="#1E9CD6"/>
<rect x="165.80" y="183.70" width="10.20" height="1.3" fill="#1A72A4"/>
<circle cx="170.90" cy="181.30" r="1.75" fill="#EB8A72" stroke="#2E0A10" stroke-width="1.0"/>
<rect x="177.65" y="179.20" width="10.20" height="4.2" fill="#1E9CD6"/>
<rect x="177.65" y="179.20" width="10.20" height="1.3" fill="#1A72A4"/>
<rect x="177.65" y="183.70" width="10.20" height="4.2" fill="#1E9CD6"/>
<rect x="177.65" y="183.70" width="10.20" height="1.3" fill="#1A72A4"/>
<rect x="189.50" y="179.20" width="10.20" height="4.2" fill="#D2D2D2"/>
<rect x="189.50" y="183.70" width="10.20" height="4.2" fill="#1E9CD6"/>
<rect x="189.50" y="183.70" width="10.20" height="1.3" fill="#1A72A4"/>
<circle cx="194.60" cy="185.80" r="1.75" fill="#EB8A72" stroke="#2E0A10" stroke-width="1.0"/>
<rect x="204.90" y="179.20" width="10.20" height="4.2" fill="#1E9CD6"/>
<rect x="204.90" y="179.20" width="10.20" height="1.3" fill="#1A72A4"/>
<rect x="204.90" y="183.70" width="10.20" height="4.2" fill="#1E9CD6"/>
<rect x="204.90" y="183.70" width="10.20" height="1.3" fill="#1A72A4"/>
<rect x="216.82" y="179.20" width="10.20" height="4.2" fill="#1E9CD6"/>
<rect x="216.82" y="179.20" width="10.20" height="1.3" fill="#1A72A4"/>
<rect x="216.82" y="183.70" width="10.20" height="4.2" fill="#1E9CD6"/>
<rect x="216.82" y="183.70" width="10.20" height="1.3" fill="#1A72A4"/>
<rect x="228.74" y="179.20" width="10.20" height="4.2" fill="#1E9CD6"/>
<rect x="228.74" y="179.20" width="10.20" height="1.3" fill="#1A72A4"/>
<rect x="228.74" y="183.70" width="10.20" height="4.2" fill="#D2D2D2"/>
<rect x="240.66" y="179.20" width="10.20" height="4.2" fill="#1E9CD6"/>
<rect x="240.66" y="179.20" width="10.20" height="1.3" fill="#1A72A4"/>
<rect x="240.66" y="183.70" width="10.20" height="4.2" fill="#1E9CD6"/>
<rect x="240.66" y="183.70" width="10.20" height="1.3" fill="#1A72A4"/>
<rect x="252.58" y="179.20" width="10.20" height="4.2" fill="#1E9CD6"/>
<rect x="252.58" y="179.20" width="10.20" height="1.3" fill="#1A72A4"/>
<rect x="252.58" y="183.70" width="10.20" height="4.2" fill="#1E9CD6"/>
<rect x="252.58" y="183.70" width="10.20" height="1.3" fill="#1A72A4"/>
<rect x="264.50" y="179.20" width="10.20" height="4.2" fill="#1E9CD6"/>
<rect x="264.50" y="179.20" width="10.20" height="1.3" fill="#1A72A4"/>
<rect x="264.50" y="183.70" width="10.20" height="4.2" fill="#1E9CD6"/>
<rect x="264.50" y="183.70" width="10.20" height="1.3" fill="#1A72A4"/>
<rect x="276.42" y="179.20" width="10.20" height="4.2" fill="#1E9CD6"/>
<rect x="276.42" y="179.20" width="10.20" height="1.3" fill="#1A72A4"/>
<rect x="276.42" y="183.70" width="10.20" height="4.2" fill="#1E9CD6"/>
<rect x="276.42" y="183.70" width="10.20" height="1.3" fill="#1A72A4"/>
<rect x="288.34" y="179.20" width="10.20" height="4.2" fill="#1E9CD6"/>
<rect x="288.34" y="179.20" width="10.20" height="1.3" fill="#1A72A4"/>
<rect x="288.34" y="183.70" width="10.20" height="4.2" fill="#1E9CD6"/>
<rect x="288.34" y="183.70" width="10.20" height="1.3" fill="#1A72A4"/>
<rect x="300.26" y="179.20" width="10.20" height="4.2" fill="#1E9CD6"/>
<rect x="300.26" y="179.20" width="10.20" height="1.3" fill="#1A72A4"/>
<rect x="300.26" y="183.70" width="10.20" height="4.2" fill="#D2D2D2"/>
<rect x="312.18" y="179.20" width="10.20" height="4.2" fill="#1E9CD6"/>
<rect x="312.18" y="179.20" width="10.20" height="1.3" fill="#1A72A4"/>
<rect x="312.18" y="183.70" width="10.20" height="4.2" fill="#D2D2D2"/>
<rect x="324.10" y="179.20" width="10.20" height="4.2" fill="#1E9CD6"/>
<rect x="324.10" y="179.20" width="10.20" height="1.3" fill="#1A72A4"/>
<rect x="324.10" y="183.70" width="10.20" height="4.2" fill="#1E9CD6"/>
<rect x="324.10" y="183.70" width="10.20" height="1.3" fill="#1A72A4"/>
<rect x="336.02" y="179.20" width="10.20" height="4.2" fill="#1E9CD6"/>
<rect x="336.02" y="179.20" width="10.20" height="1.3" fill="#1A72A4"/>
<rect x="336.02" y="183.70" width="10.20" height="4.2" fill="#1E9CD6"/>
<rect x="336.02" y="183.70" width="10.20" height="1.3" fill="#1A72A4"/>
<rect x="347.94" y="179.20" width="10.20" height="4.2" fill="#1E9CD6"/>
<rect x="347.94" y="179.20" width="10.20" height="1.3" fill="#1A72A4"/>
<rect x="347.94" y="183.70" width="10.20" height="4.2" fill="#D2D2D2"/>
<rect x="359.86" y="179.20" width="10.20" height="4.2" fill="#1E9CD6"/>
<rect x="359.86" y="179.20" width="10.20" height="1.3" fill="#1A72A4"/>
<rect x="359.86" y="183.70" width="10.20" height="4.2" fill="#D2D2D2"/>
<rect x="371.78" y="179.20" width="10.20" height="4.2" fill="#D2D2D2"/>
<rect x="371.78" y="183.70" width="10.20" height="4.2" fill="#1E9CD6"/>
<rect x="371.78" y="183.70" width="10.20" height="1.3" fill="#1A72A4"/>
<rect x="383.70" y="179.20" width="10.20" height="4.2" fill="#D2D2D2"/>
<rect x="383.70" y="183.70" width="10.20" height="4.2" fill="#1E9CD6"/>
<rect x="383.70" y="183.70" width="10.20" height="1.3" fill="#1A72A4"/>
<rect x="395.62" y="179.20" width="10.20" height="4.2" fill="#D2D2D2"/>
<rect x="395.62" y="183.70" width="10.20" height="4.2" fill="#1E9CD6"/>
<rect x="395.62" y="183.70" width="10.20" height="1.3" fill="#1A72A4"/>
<rect x="407.54" y="179.20" width="10.20" height="4.2" fill="#D2D2D2"/>
<rect x="407.54" y="183.70" width="10.20" height="4.2" fill="#1E9CD6"/>
<rect x="407.54" y="183.70" width="10.20" height="1.3" fill="#1A72A4"/>
<rect x="419.46" y="179.20" width="10.20" height="4.2" fill="#D2D2D2"/>
<rect x="419.46" y="183.70" width="10.20" height="4.2" fill="#1E9CD6"/>
<rect x="419.46" y="183.70" width="10.20" height="1.3" fill="#1A72A4"/>
<rect x="431.38" y="179.20" width="10.20" height="4.2" fill="#D2D2D2"/>
<rect x="431.38" y="183.70" width="10.20" height="4.2" fill="#1E9CD6"/>
<rect x="431.38" y="183.70" width="10.20" height="1.3" fill="#1A72A4"/>
<rect x="443.30" y="179.20" width="10.20" height="4.2" fill="#D2D2D2"/>
<rect x="443.30" y="183.70" width="10.20" height="4.2" fill="#D2D2D2"/>
<rect x="47.30" y="191.60" width="10.20" height="123.12" fill="#D2D2D2"/>
<rect x="59.15" y="191.60" width="10.20" height="123.12" fill="#D2D2D2"/>
<rect x="71.00" y="191.60" width="10.20" height="123.12" fill="#D2D2D2"/>
<rect x="82.85" y="191.60" width="10.20" height="123.12" fill="#D2D2D2"/>
<rect x="94.70" y="191.60" width="10.20" height="123.12" fill="#D2D2D2"/>
<rect x="106.55" y="191.60" width="10.20" height="123.12" fill="#D2D2D2"/>
<rect x="118.40" y="191.60" width="10.20" height="123.12" fill="#D2D2D2"/>
<rect x="130.25" y="191.60" width="10.20" height="123.12" fill="#D2D2D2"/>
<rect x="142.10" y="191.60" width="10.20" height="123.12" fill="#D2D2D2"/>
<rect x="153.95" y="191.60" width="10.20" height="123.12" fill="#D2D2D2"/>
<rect x="165.80" y="191.60" width="10.20" height="123.12" fill="#D2D2D2"/>
<rect x="177.65" y="191.60" width="10.20" height="123.12" fill="#D2D2D2"/>
<rect x="189.50" y="191.60" width="10.20" height="123.12" fill="#D2D2D2"/>
<rect x="204.90" y="191.60" width="10.20" height="123.12" fill="#D2D2D2"/>
<rect x="216.82" y="191.60" width="10.20" height="123.12" fill="#D2D2D2"/>
<rect x="228.74" y="191.60" width="10.20" height="123.12" fill="#D2D2D2"/>
<rect x="240.66" y="191.60" width="10.20" height="123.12" fill="#D2D2D2"/>
<rect x="252.58" y="191.60" width="10.20" height="123.12" fill="#D2D2D2"/>
<rect x="264.50" y="191.60" width="10.20" height="123.12" fill="#D2D2D2"/>
<rect x="276.42" y="191.60" width="10.20" height="123.12" fill="#D2D2D2"/>
<rect x="288.34" y="191.60" width="10.20" height="123.12" fill="#D2D2D2"/>
<rect x="300.26" y="191.60" width="10.20" height="123.12" fill="#D2D2D2"/>
<rect x="312.18" y="191.60" width="10.20" height="123.12" fill="#D2D2D2"/>
<rect x="324.10" y="191.60" width="10.20" height="123.12" fill="#D2D2D2"/>
<rect x="336.02" y="191.60" width="10.20" height="123.12" fill="#D2D2D2"/>
<rect x="347.94" y="191.60" width="10.20" height="123.12" fill="#D2D2D2"/>
<rect x="359.86" y="191.60" width="10.20" height="123.12" fill="#D2D2D2"/>
<rect x="371.78" y="191.60" width="10.20" height="123.12" fill="#D2D2D2"/>
<rect x="383.70" y="191.60" width="10.20" height="123.12" fill="#D2D2D2"/>
<rect x="395.62" y="191.60" width="10.20" height="123.12" fill="#D2D2D2"/>
<rect x="407.54" y="191.60" width="10.20" height="123.12" fill="#D2D2D2"/>
<rect x="419.46" y="191.60" width="10.20" height="123.12" fill="#D2D2D2"/>
<rect x="431.38" y="191.60" width="10.20" height="123.12" fill="#D2D2D2"/>
<rect x="443.30" y="191.60" width="10.20" height="123.12" fill="#D2D2D2"/>
<rect x="47.30" y="191.60" width="10.20" height="4.56" fill="#3876C0"/>
<rect x="47.30" y="196.16" width="10.20" height="4.56" fill="#3876C0"/>
<rect x="47.30" y="200.72" width="10.20" height="4.56" fill="#3876C0"/>
<rect x="47.30" y="205.28" width="10.20" height="4.56" fill="#3876C0"/>
<rect x="47.30" y="223.52" width="10.20" height="4.56" fill="#3876C0"/>
<rect x="47.30" y="228.08" width="10.20" height="4.56" fill="#3876C0"/>
<rect x="47.30" y="237.20" width="10.20" height="4.56" fill="#3876C0"/>
<rect x="47.30" y="241.76" width="10.20" height="4.56" fill="#3876C0"/>
<rect x="47.30" y="291.92" width="10.20" height="4.56" fill="#3876C0"/>
<rect x="59.15" y="196.16" width="10.20" height="4.56" fill="#3876C0"/>
<rect x="59.15" y="200.72" width="10.20" height="4.56" fill="#3876C0"/>
<rect x="59.15" y="205.28" width="10.20" height="4.56" fill="#3876C0"/>
<rect x="59.15" y="209.84" width="10.20" height="4.56" fill="#3876C0"/>
<rect x="59.15" y="246.32" width="10.20" height="4.56" fill="#3876C0"/>
<rect x="59.15" y="269.12" width="10.20" height="4.56" fill="#3876C0"/>
<rect x="59.15" y="282.80" width="10.20" height="4.56" fill="#2198D4"/>
<rect x="59.15" y="310.16" width="10.20" height="4.56" fill="#3876C0"/>
<rect x="71.00" y="191.60" width="10.20" height="4.56" fill="#3876C0"/>
<rect x="71.00" y="200.72" width="10.20" height="4.56" fill="#3876C0"/>
<rect x="71.00" y="205.28" width="10.20" height="4.56" fill="#3876C0"/>
<rect x="71.00" y="223.52" width="10.20" height="4.56" fill="#3876C0"/>
<rect x="71.00" y="269.12" width="10.20" height="4.56" fill="#3876C0"/>
<rect x="82.85" y="191.60" width="10.20" height="4.56" fill="#3876C0"/>
<rect x="82.85" y="196.16" width="10.20" height="4.56" fill="#3876C0"/>
<rect x="82.85" y="200.72" width="10.20" height="4.56" fill="#3876C0"/>
<rect x="82.85" y="209.84" width="10.20" height="4.56" fill="#3876C0"/>
<rect x="82.85" y="214.40" width="10.20" height="4.56" fill="#3876C0"/>
<rect x="82.85" y="223.52" width="10.20" height="4.56" fill="#3876C0"/>
<rect x="82.85" y="260.00" width="10.20" height="4.56" fill="#3876C0"/>
<rect x="82.85" y="264.56" width="10.20" height="4.56" fill="#3876C0"/>
<rect x="82.85" y="278.24" width="10.20" height="4.56" fill="#3876C0"/>
<rect x="94.70" y="196.16" width="10.20" height="4.56" fill="#3876C0"/>
<rect x="94.70" y="200.72" width="10.20" height="4.56" fill="#3876C0"/>
<rect x="94.70" y="214.40" width="10.20" height="4.56" fill="#2198D4"/>
<rect x="94.70" y="218.96" width="10.20" height="4.56" fill="#2198D4"/>
<rect x="94.70" y="278.24" width="10.20" height="4.56" fill="#3876C0"/>
<rect x="106.55" y="191.60" width="10.20" height="4.56" fill="#3876C0"/>
<rect x="106.55" y="200.72" width="10.20" height="4.56" fill="#3876C0"/>
<rect x="106.55" y="214.40" width="10.20" height="4.56" fill="#3876C0"/>
<rect x="106.55" y="218.96" width="10.20" height="4.56" fill="#3876C0"/>
<rect x="106.55" y="228.08" width="10.20" height="4.56" fill="#3876C0"/>
<rect x="106.55" y="250.88" width="10.20" height="4.56" fill="#3876C0"/>
<rect x="106.55" y="287.36" width="10.20" height="4.56" fill="#3876C0"/>
<rect x="118.40" y="191.60" width="10.20" height="4.56" fill="#2198D4"/>
<rect x="118.40" y="196.16" width="10.20" height="4.56" fill="#3876C0"/>
<rect x="118.40" y="209.84" width="10.20" height="4.56" fill="#3876C0"/>
<rect x="118.40" y="228.08" width="10.20" height="4.56" fill="#3876C0"/>
<rect x="118.40" y="264.56" width="10.20" height="4.56" fill="#3876C0"/>
<rect x="130.25" y="205.28" width="10.20" height="4.56" fill="#3876C0"/>
<rect x="130.25" y="209.84" width="10.20" height="4.56" fill="#3876C0"/>
<rect x="130.25" y="218.96" width="10.20" height="4.56" fill="#3876C0"/>
<rect x="130.25" y="223.52" width="10.20" height="4.56" fill="#3876C0"/>
<rect x="130.25" y="232.64" width="10.20" height="4.56" fill="#3876C0"/>
<rect x="130.25" y="282.80" width="10.20" height="4.56" fill="#3876C0"/>
<rect x="142.10" y="191.60" width="10.20" height="4.56" fill="#3876C0"/>
<rect x="142.10" y="196.16" width="10.20" height="4.56" fill="#3876C0"/>
<rect x="142.10" y="200.72" width="10.20" height="4.56" fill="#3876C0"/>
<rect x="142.10" y="250.88" width="10.20" height="4.56" fill="#3876C0"/>
<rect x="142.10" y="255.44" width="10.20" height="4.56" fill="#3876C0"/>
<rect x="142.10" y="273.68" width="10.20" height="4.56" fill="#3876C0"/>
<rect x="142.10" y="305.60" width="10.20" height="4.56" fill="#2198D4"/>
<rect x="153.95" y="191.60" width="10.20" height="4.56" fill="#2198D4"/>
<rect x="153.95" y="196.16" width="10.20" height="4.56" fill="#3876C0"/>
<rect x="153.95" y="200.72" width="10.20" height="4.56" fill="#3876C0"/>
<rect x="165.80" y="196.16" width="10.20" height="4.56" fill="#3876C0"/>
<rect x="165.80" y="205.28" width="10.20" height="4.56" fill="#3876C0"/>
<rect x="165.80" y="237.20" width="10.20" height="4.56" fill="#3876C0"/>
<rect x="165.80" y="246.32" width="10.20" height="4.56" fill="#3876C0"/>
<rect x="165.80" y="305.60" width="10.20" height="4.56" fill="#3876C0"/>
<rect x="177.65" y="191.60" width="10.20" height="4.56" fill="#3876C0"/>
<rect x="177.65" y="200.72" width="10.20" height="4.56" fill="#3876C0"/>
<rect x="177.65" y="205.28" width="10.20" height="4.56" fill="#3876C0"/>
<rect x="177.65" y="296.48" width="10.20" height="4.56" fill="#3876C0"/>
<rect x="189.50" y="191.60" width="10.20" height="4.56" fill="#3876C0"/>
<rect x="189.50" y="196.16" width="10.20" height="4.56" fill="#3876C0"/>
<rect x="189.50" y="205.28" width="10.20" height="4.56" fill="#3876C0"/>
<rect x="189.50" y="223.52" width="10.20" height="4.56" fill="#3876C0"/>
<rect x="189.50" y="228.08" width="10.20" height="4.56" fill="#3876C0"/>
<rect x="189.50" y="241.76" width="10.20" height="4.56" fill="#2198D4"/>
<rect x="189.50" y="264.56" width="10.20" height="4.56" fill="#3876C0"/>
<rect x="204.90" y="191.60" width="10.20" height="4.56" fill="#3876C0"/>
<rect x="204.90" y="196.16" width="10.20" height="4.56" fill="#3876C0"/>
<rect x="204.90" y="200.72" width="10.20" height="4.56" fill="#3876C0"/>
<rect x="204.90" y="209.84" width="10.20" height="4.56" fill="#3876C0"/>
<rect x="216.82" y="191.60" width="10.20" height="4.56" fill="#3876C0"/>
<rect x="216.82" y="196.16" width="10.20" height="4.56" fill="#265C9E"/>
<rect x="216.82" y="200.72" width="10.20" height="4.56" fill="#3876C0"/>
<rect x="216.82" y="223.52" width="10.20" height="4.56" fill="#3876C0"/>
<rect x="216.82" y="228.08" width="10.20" height="4.56" fill="#3876C0"/>
<rect x="216.82" y="232.64" width="10.20" height="4.56" fill="#3876C0"/>
<rect x="216.82" y="246.32" width="10.20" height="4.56" fill="#3876C0"/>
<rect x="228.74" y="191.60" width="10.20" height="4.56" fill="#2198D4"/>
<rect x="228.74" y="200.72" width="10.20" height="4.56" fill="#3876C0"/>
<rect x="228.74" y="214.40" width="10.20" height="4.56" fill="#3876C0"/>
<rect x="228.74" y="223.52" width="10.20" height="4.56" fill="#3876C0"/>
<rect x="228.74" y="228.08" width="10.20" height="4.56" fill="#3876C0"/>
<rect x="228.74" y="241.76" width="10.20" height="4.56" fill="#265C9E"/>
<rect x="228.74" y="255.44" width="10.20" height="4.56" fill="#3876C0"/>
<rect x="228.74" y="273.68" width="10.20" height="4.56" fill="#3876C0"/>
<rect x="240.66" y="191.60" width="10.20" height="4.56" fill="#3876C0"/>
<rect x="240.66" y="200.72" width="10.20" height="4.56" fill="#3876C0"/>
<rect x="240.66" y="218.96" width="10.20" height="4.56" fill="#3876C0"/>
<rect x="240.66" y="237.20" width="10.20" height="4.56" fill="#3876C0"/>
<rect x="252.58" y="196.16" width="10.20" height="4.56" fill="#3876C0"/>
<rect x="252.58" y="200.72" width="10.20" height="4.56" fill="#3876C0"/>
<rect x="252.58" y="205.28" width="10.20" height="4.56" fill="#3876C0"/>
<rect x="264.50" y="196.16" width="10.20" height="4.56" fill="#3876C0"/>
<rect x="264.50" y="209.84" width="10.20" height="4.56" fill="#3876C0"/>
<rect x="276.42" y="200.72" width="10.20" height="4.56" fill="#3876C0"/>
<rect x="276.42" y="214.40" width="10.20" height="4.56" fill="#3876C0"/>
<rect x="276.42" y="237.20" width="10.20" height="4.56" fill="#3876C0"/>
<rect x="276.42" y="246.32" width="10.20" height="4.56" fill="#3876C0"/>
<rect x="276.42" y="269.12" width="10.20" height="4.56" fill="#3876C0"/>
<rect x="276.42" y="291.92" width="10.20" height="4.56" fill="#3876C0"/>
<rect x="276.42" y="301.04" width="10.20" height="4.56" fill="#3876C0"/>
<rect x="288.34" y="205.28" width="10.20" height="4.56" fill="#3876C0"/>
<rect x="288.34" y="223.52" width="10.20" height="4.56" fill="#3876C0"/>
<rect x="288.34" y="241.76" width="10.20" height="4.56" fill="#3876C0"/>
<rect x="288.34" y="278.24" width="10.20" height="4.56" fill="#3876C0"/>
<rect x="288.34" y="291.92" width="10.20" height="4.56" fill="#3876C0"/>
<rect x="300.26" y="191.60" width="10.20" height="4.56" fill="#3876C0"/>
<rect x="300.26" y="200.72" width="10.20" height="4.56" fill="#3876C0"/>
<rect x="300.26" y="214.40" width="10.20" height="4.56" fill="#3876C0"/>
<rect x="300.26" y="218.96" width="10.20" height="4.56" fill="#3876C0"/>
<rect x="300.26" y="260.00" width="10.20" height="4.56" fill="#3876C0"/>
<rect x="300.26" y="287.36" width="10.20" height="4.56" fill="#3876C0"/>
<rect x="300.26" y="296.48" width="10.20" height="4.56" fill="#3876C0"/>
<rect x="312.18" y="191.60" width="10.20" height="4.56" fill="#3876C0"/>
<rect x="312.18" y="200.72" width="10.20" height="4.56" fill="#3876C0"/>
<rect x="312.18" y="209.84" width="10.20" height="4.56" fill="#3876C0"/>
<rect x="312.18" y="214.40" width="10.20" height="4.56" fill="#3876C0"/>
<rect x="312.18" y="218.96" width="10.20" height="4.56" fill="#3876C0"/>
<rect x="312.18" y="246.32" width="10.20" height="4.56" fill="#265C9E"/>
<rect x="312.18" y="255.44" width="10.20" height="4.56" fill="#3876C0"/>
<rect x="324.10" y="196.16" width="10.20" height="4.56" fill="#3876C0"/>
<rect x="324.10" y="205.28" width="10.20" height="4.56" fill="#3876C0"/>
<rect x="324.10" y="241.76" width="10.20" height="4.56" fill="#3876C0"/>
<rect x="324.10" y="296.48" width="10.20" height="4.56" fill="#3876C0"/>
<rect x="336.02" y="200.72" width="10.20" height="4.56" fill="#3876C0"/>
<rect x="336.02" y="205.28" width="10.20" height="4.56" fill="#3876C0"/>
<rect x="336.02" y="209.84" width="10.20" height="4.56" fill="#3876C0"/>
<rect x="336.02" y="218.96" width="10.20" height="4.56" fill="#3876C0"/>
<rect x="336.02" y="255.44" width="10.20" height="4.56" fill="#3876C0"/>
<rect x="336.02" y="301.04" width="10.20" height="4.56" fill="#3876C0"/>
<rect x="347.94" y="200.72" width="10.20" height="4.56" fill="#3876C0"/>
<rect x="347.94" y="228.08" width="10.20" height="4.56" fill="#3876C0"/>
<rect x="347.94" y="273.68" width="10.20" height="4.56" fill="#3876C0"/>
<rect x="347.94" y="287.36" width="10.20" height="4.56" fill="#3876C0"/>
<rect x="347.94" y="301.04" width="10.20" height="4.56" fill="#3876C0"/>
<rect x="359.86" y="218.96" width="10.20" height="4.56" fill="#3876C0"/>
<rect x="359.86" y="260.00" width="10.20" height="4.56" fill="#265C9E"/>
<rect x="371.78" y="191.60" width="10.20" height="4.56" fill="#3876C0"/>
<rect x="371.78" y="196.16" width="10.20" height="4.56" fill="#3876C0"/>
<rect x="371.78" y="205.28" width="10.20" height="4.56" fill="#3876C0"/>
<rect x="371.78" y="214.40" width="10.20" height="4.56" fill="#3876C0"/>
<rect x="371.78" y="237.20" width="10.20" height="4.56" fill="#3876C0"/>
<rect x="371.78" y="250.88" width="10.20" height="4.56" fill="#3876C0"/>
<rect x="383.70" y="191.60" width="10.20" height="4.56" fill="#3876C0"/>
<rect x="383.70" y="196.16" width="10.20" height="4.56" fill="#3876C0"/>
<rect x="395.62" y="191.60" width="10.20" height="4.56" fill="#3876C0"/>
<rect x="395.62" y="205.28" width="10.20" height="4.56" fill="#3876C0"/>
<rect x="395.62" y="214.40" width="10.20" height="4.56" fill="#3876C0"/>
<rect x="395.62" y="260.00" width="10.20" height="4.56" fill="#2198D4"/>
<rect x="395.62" y="282.80" width="10.20" height="4.56" fill="#2198D4"/>
<rect x="395.62" y="305.60" width="10.20" height="4.56" fill="#265C9E"/>
<rect x="407.54" y="191.60" width="10.20" height="4.56" fill="#3876C0"/>
<rect x="407.54" y="205.28" width="10.20" height="4.56" fill="#3876C0"/>
<rect x="407.54" y="232.64" width="10.20" height="4.56" fill="#3876C0"/>
<rect x="407.54" y="250.88" width="10.20" height="4.56" fill="#3876C0"/>
<rect x="419.46" y="196.16" width="10.20" height="4.56" fill="#3876C0"/>
<rect x="419.46" y="214.40" width="10.20" height="4.56" fill="#3876C0"/>
<rect x="419.46" y="232.64" width="10.20" height="4.56" fill="#3876C0"/>
<rect x="419.46" y="241.76" width="10.20" height="4.56" fill="#2198D4"/>
<rect x="431.38" y="196.16" width="10.20" height="4.56" fill="#3876C0"/>
<rect x="431.38" y="232.64" width="10.20" height="4.56" fill="#3876C0"/>
<rect x="443.30" y="191.60" width="10.20" height="4.56" fill="#3876C0"/>
<rect x="443.30" y="196.16" width="10.20" height="4.56" fill="#3876C0"/>
<rect x="443.30" y="218.96" width="10.20" height="4.56" fill="#3876C0"/>
<rect x="443.30" y="232.64" width="10.20" height="4.56" fill="#3876C0"/>
<rect x="443.30" y="237.20" width="10.20" height="4.56" fill="#3876C0"/>
<line x1="47" x2="454" y1="196.16" y2="196.16" stroke="#FFFFFF" stroke-opacity="0.4" stroke-width="0.7"/>
<line x1="47" x2="454" y1="200.72" y2="200.72" stroke="#FFFFFF" stroke-opacity="0.4" stroke-width="0.7"/>
<line x1="47" x2="454" y1="205.28" y2="205.28" stroke="#FFFFFF" stroke-opacity="0.4" stroke-width="0.7"/>
<line x1="47" x2="454" y1="209.84" y2="209.84" stroke="#FFFFFF" stroke-opacity="0.4" stroke-width="0.7"/>
<line x1="47" x2="454" y1="214.40" y2="214.40" stroke="#FFFFFF" stroke-opacity="0.4" stroke-width="0.7"/>
<line x1="47" x2="454" y1="218.96" y2="218.96" stroke="#FFFFFF" stroke-opacity="0.4" stroke-width="0.7"/>
<line x1="47" x2="454" y1="223.52" y2="223.52" stroke="#FFFFFF" stroke-opacity="0.4" stroke-width="0.7"/>
<line x1="47" x2="454" y1="228.08" y2="228.08" stroke="#FFFFFF" stroke-opacity="0.4" stroke-width="0.7"/>
<line x1="47" x2="454" y1="232.64" y2="232.64" stroke="#FFFFFF" stroke-opacity="0.4" stroke-width="0.7"/>
<line x1="47" x2="454" y1="237.20" y2="237.20" stroke="#FFFFFF" stroke-opacity="0.4" stroke-width="0.7"/>
<line x1="47" x2="454" y1="241.76" y2="241.76" stroke="#FFFFFF" stroke-opacity="0.4" stroke-width="0.7"/>
<line x1="47" x2="454" y1="246.32" y2="246.32" stroke="#FFFFFF" stroke-opacity="0.4" stroke-width="0.7"/>
<line x1="47" x2="454" y1="250.88" y2="250.88" stroke="#FFFFFF" stroke-opacity="0.4" stroke-width="0.7"/>
<line x1="47" x2="454" y1="255.44" y2="255.44" stroke="#FFFFFF" stroke-opacity="0.4" stroke-width="0.7"/>
<line x1="47" x2="454" y1="260.00" y2="260.00" stroke="#FFFFFF" stroke-opacity="0.4" stroke-width="0.7"/>
<line x1="47" x2="454" y1="264.56" y2="264.56" stroke="#FFFFFF" stroke-opacity="0.4" stroke-width="0.7"/>
<line x1="47" x2="454" y1="269.12" y2="269.12" stroke="#FFFFFF" stroke-opacity="0.4" stroke-width="0.7"/>
<line x1="47" x2="454" y1="273.68" y2="273.68" stroke="#FFFFFF" stroke-opacity="0.4" stroke-width="0.7"/>
<line x1="47" x2="454" y1="278.24" y2="278.24" stroke="#FFFFFF" stroke-opacity="0.4" stroke-width="0.7"/>
<line x1="47" x2="454" y1="282.80" y2="282.80" stroke="#FFFFFF" stroke-opacity="0.4" stroke-width="0.7"/>
<line x1="47" x2="454" y1="287.36" y2="287.36" stroke="#FFFFFF" stroke-opacity="0.4" stroke-width="0.7"/>
<line x1="47" x2="454" y1="291.92" y2="291.92" stroke="#FFFFFF" stroke-opacity="0.4" stroke-width="0.7"/>
<line x1="47" x2="454" y1="296.48" y2="296.48" stroke="#FFFFFF" stroke-opacity="0.4" stroke-width="0.7"/>
<line x1="47" x2="454" y1="301.04" y2="301.04" stroke="#FFFFFF" stroke-opacity="0.4" stroke-width="0.7"/>
<line x1="47" x2="454" y1="305.60" y2="305.60" stroke="#FFFFFF" stroke-opacity="0.4" stroke-width="0.7"/>
<line x1="47" x2="454" y1="310.16" y2="310.16" stroke="#FFFFFF" stroke-opacity="0.4" stroke-width="0.7"/>
<circle cx="52.40" cy="193.88" r="1.75" fill="#EB8A72" stroke="#2E0A10" stroke-width="1.0"/>
<circle cx="52.40" cy="198.44" r="1.75" fill="#EB8A72" stroke="#2E0A10" stroke-width="1.0"/>
<circle cx="52.40" cy="203.00" r="1.75" fill="#EB8A72" stroke="#2E0A10" stroke-width="1.0"/>
<circle cx="52.40" cy="207.56" r="1.75" fill="#EB8A72" stroke="#2E0A10" stroke-width="1.0"/>
<circle cx="64.25" cy="203.00" r="1.75" fill="#EB8A72" stroke="#2E0A10" stroke-width="1.0"/>
<circle cx="64.25" cy="207.56" r="1.75" fill="#EB8A72" stroke="#2E0A10" stroke-width="1.0"/>
<circle cx="64.25" cy="212.12" r="1.75" fill="#EB8A72" stroke="#2E0A10" stroke-width="1.0"/>
<circle cx="64.25" cy="248.60" r="1.75" fill="#EB8A72" stroke="#2E0A10" stroke-width="1.0"/>
<circle cx="64.25" cy="312.44" r="1.75" fill="#EB8A72" stroke="#2E0A10" stroke-width="1.0"/>
<circle cx="76.10" cy="193.88" r="1.75" fill="#EB8A72" stroke="#2E0A10" stroke-width="1.0"/>
<circle cx="76.10" cy="207.56" r="1.75" fill="#EB8A72" stroke="#2E0A10" stroke-width="1.0"/>
<circle cx="76.10" cy="271.40" r="1.75" fill="#EB8A72" stroke="#2E0A10" stroke-width="1.0"/>
<circle cx="87.95" cy="193.88" r="1.75" fill="#EB8A72" stroke="#2E0A10" stroke-width="1.0"/>
<circle cx="87.95" cy="198.44" r="1.75" fill="#EB8A72" stroke="#2E0A10" stroke-width="1.0"/>
<circle cx="87.95" cy="212.12" r="1.75" fill="#EB8A72" stroke="#2E0A10" stroke-width="1.0"/>
<circle cx="99.80" cy="198.44" r="1.75" fill="#EB8A72" stroke="#2E0A10" stroke-width="1.0"/>
<circle cx="99.80" cy="203.00" r="1.75" fill="#EB8A72" stroke="#2E0A10" stroke-width="1.0"/>
<circle cx="111.65" cy="203.00" r="1.75" fill="#EB8A72" stroke="#2E0A10" stroke-width="1.0"/>
<circle cx="123.50" cy="198.44" r="1.75" fill="#EB8A72" stroke="#2E0A10" stroke-width="1.0"/>
<circle cx="135.35" cy="207.56" r="1.75" fill="#EB8A72" stroke="#2E0A10" stroke-width="1.0"/>
<circle cx="135.35" cy="221.24" r="1.75" fill="#EB8A72" stroke="#2E0A10" stroke-width="1.0"/>
<circle cx="135.35" cy="225.80" r="1.75" fill="#EB8A72" stroke="#2E0A10" stroke-width="1.0"/>
<circle cx="135.35" cy="234.92" r="1.75" fill="#EB8A72" stroke="#2E0A10" stroke-width="1.0"/>
<circle cx="147.20" cy="193.88" r="1.75" fill="#EB8A72" stroke="#2E0A10" stroke-width="1.0"/>
<circle cx="147.20" cy="203.00" r="1.75" fill="#EB8A72" stroke="#2E0A10" stroke-width="1.0"/>
<circle cx="159.05" cy="198.44" r="1.75" fill="#EB8A72" stroke="#2E0A10" stroke-width="1.0"/>
<circle cx="159.05" cy="203.00" r="1.75" fill="#EB8A72" stroke="#2E0A10" stroke-width="1.0"/>
<circle cx="170.90" cy="198.44" r="1.75" fill="#EB8A72" stroke="#2E0A10" stroke-width="1.0"/>
<circle cx="182.75" cy="207.56" r="1.75" fill="#EB8A72" stroke="#2E0A10" stroke-width="1.0"/>
<circle cx="194.60" cy="198.44" r="1.75" fill="#EB8A72" stroke="#2E0A10" stroke-width="1.0"/>
<circle cx="194.60" cy="225.80" r="1.75" fill="#EB8A72" stroke="#2E0A10" stroke-width="1.0"/>
<circle cx="194.60" cy="266.84" r="1.75" fill="#EB8A72" stroke="#2E0A10" stroke-width="1.0"/>
<text x="14.3" y="183.0" font-size="5.5" fill="#333">Non-</text>
<text x="14.3" y="187.4" font-size="5.5" fill="#333">coding</text>
<text x="45.6" y="183.2" font-size="5.3" text-anchor="end" fill="#444">78%</text>
<text x="45.6" y="187.6" font-size="5.3" text-anchor="end" fill="#444">74%</text>
<text x="14.3" y="197.6" font-size="5.5" fill="#333">Coding</text>
<text x="45.6" y="195.60" font-size="5.1" text-anchor="end" fill="#444">59%</text>
<text x="45.6" y="200.16" font-size="5.1" text-anchor="end" fill="#444">52%</text>
<text x="45.6" y="204.72" font-size="5.1" text-anchor="end" fill="#444">52%</text>
<text x="45.6" y="209.28" font-size="5.1" text-anchor="end" fill="#444">45%</text>
<text x="45.6" y="213.84" font-size="5.1" text-anchor="end" fill="#444">41%</text>
<text x="45.6" y="218.40" font-size="5.1" text-anchor="end" fill="#444">34%</text>
<text x="45.6" y="222.96" font-size="5.1" text-anchor="end" fill="#444">28%</text>
<text x="45.6" y="227.52" font-size="5.1" text-anchor="end" fill="#444">28%</text>
<text x="45.6" y="232.08" font-size="5.1" text-anchor="end" fill="#444">24%</text>
<text x="45.6" y="236.64" font-size="5.1" text-anchor="end" fill="#444">24%</text>
<text x="45.6" y="241.20" font-size="5.1" text-anchor="end" fill="#444">21%</text>
<text x="45.6" y="245.76" font-size="5.1" text-anchor="end" fill="#444">17%</text>
<text x="45.6" y="250.32" font-size="5.1" text-anchor="end" fill="#444">17%</text>
<text x="45.6" y="254.88" font-size="5.1" text-anchor="end" fill="#444">14%</text>
<text x="45.6" y="259.44" font-size="5.1" text-anchor="end" fill="#444">14%</text>
<text x="45.6" y="264.00" font-size="5.1" text-anchor="end" fill="#444">14%</text>
<text x="45.6" y="268.56" font-size="5.1" text-anchor="end" fill="#444">10%</text>
<text x="45.6" y="273.12" font-size="5.1" text-anchor="end" fill="#444">10%</text>
<text x="45.6" y="277.68" font-size="5.1" text-anchor="end" fill="#444">10%</text>
<text x="45.6" y="282.24" font-size="5.1" text-anchor="end" fill="#444">10%</text>
<text x="45.6" y="286.80" font-size="5.1" text-anchor="end" fill="#444">7%</text>
<text x="45.6" y="291.36" font-size="5.1" text-anchor="end" fill="#444">7%</text>
<text x="45.6" y="295.92" font-size="5.1" text-anchor="end" fill="#444">7%</text>
<text x="45.6" y="300.48" font-size="5.1" text-anchor="end" fill="#444">7%</text>
<text x="45.6" y="305.04" font-size="5.1" text-anchor="end" fill="#444">7%</text>
<text x="45.6" y="309.60" font-size="5.1" text-anchor="end" fill="#444">7%</text>
<text x="45.6" y="314.16" font-size="5.1" text-anchor="end" fill="#444">3%</text>
<text x="2.5" y="207.6" font-size="5.0" fill="#333">Noncoding</text>
<text x="2.5" y="213.2" font-size="5.0" fill="#333">variants</text>
<rect x="3.8" y="214.3" width="3.4" height="3.8" fill="#22A0BE"/><text x="9.0" y="217.8" font-size="5.0" fill="#333">Intron</text>
<rect x="3.8" y="219.3" width="3.4" height="3.8" fill="#1A5F8A"/><text x="9.0" y="222.9" font-size="5.0" fill="#333">5' UTR</text>
<text x="2.5" y="229.4" font-size="5.0" fill="#333">Coding</text>
<text x="2.5" y="234.8" font-size="5.0" fill="#333">variants</text>
<rect x="3.3" y="237.8" width="3.4" height="3.8" fill="#2AA4DF"/><text x="8.7" y="241.8" font-size="5.0" fill="#333">Frameshift</text>
<rect x="3.3" y="242.8" width="3.4" height="3.8" fill="#265C9E"/><text x="8.7" y="246.8" font-size="5.0" fill="#333">Stop gain</text>
<rect x="3.3" y="247.8" width="3.4" height="3.8" fill="#3070BA"/><text x="8.7" y="251.8" font-size="5.0" fill="#333">Missense</text>
<rect x="3.2" y="258.3" width="3.6" height="3.4" fill="#D2D2D2"/><text x="8.4" y="261.7" font-size="5.0" fill="#333">Detected in</text>
<circle cx="5.1" cy="264.9" r="1.7" fill="#E8806A" stroke="#3A0E1E" stroke-width="0.9"/><text x="8.4" y="266.9" font-size="5.0" fill="#333">PreDX</text>
<circle cx="5.1" cy="271.1" r="1.5" fill="#DDE6EE" stroke="#9AA" stroke-width="0.5"/><text x="8.4" y="272.6" font-size="5.0" fill="#333">Specimen</text>
<text x="2.5" y="279.6" font-size="5.0" fill="#333">Time to</text>
<text x="2.5" y="284.8" font-size="5.0" fill="#333">diagnosis</text>
<text x="2.5" y="290" font-size="5.0" fill="#333">(months)</text>
<defs><linearGradient id="tg" x1="0" y1="0" x2="0" y2="1"><stop offset="0" stop-color="#4E2A84"/><stop offset="0.33" stop-color="#8A5AB0"/><stop offset="0.66" stop-color="#C7A2D2"/><stop offset="1" stop-color="#F7E8F4"/></linearGradient></defs>
<rect x="3" y="292.8" width="5" height="27.2" fill="url(#tg)"/>
<text x="10.2" y="296.0" font-size="5.4" fill="#333">150</text>
<text x="10.2" y="304.2" font-size="5.4" fill="#333">100</text>
<text x="10.2" y="312.4" font-size="5.4" fill="#333">50</text>
<text x="10.2" y="320.5" font-size="5.4" fill="#333">0</text>
<text x="458" y="159.2" font-size="5.3" fill="#333">Detected</text>
<text x="480.8" y="159.2" font-size="5.3" fill="#333">Cohort</text>
<text x="501.2" y="159.2" font-size="5.3" fill="#333">Analyte</text>
<rect x="458.5" y="161.6" width="3.8" height="3.4" fill="#E9573E"/><text x="463.8" y="165.2" font-size="5.3" fill="#333">Yes</text>
<rect x="458.5" y="166.4" width="3.8" height="3.4" fill="#BDBDBD"/><text x="463.8" y="170" font-size="5.3" fill="#333">No</text>
<rect x="481.5" y="161.6" width="3.8" height="3.4" fill="#A9BDD3"/><text x="486.3" y="165.2" font-size="5.3" fill="#333">ACS</text>
<rect x="481.5" y="166.4" width="3.8" height="3.4" fill="#F28A82"/><text x="486.3" y="170" font-size="5.3" fill="#333">EPIC</text>
<rect x="501.5" y="161.6" width="3.8" height="3.4" fill="#8E1518"/><text x="506.2" y="165.2" font-size="5.3" fill="#333">Blood</text>
<rect x="501.5" y="166.4" width="3.8" height="3.4" fill="#1B9AD2"/><text x="506.2" y="170" font-size="5.3" fill="#333">Saliva</text>
<text x="456.5" y="183" font-size="5.3" font-style="italic" fill="#333">BCL2</text>
<text x="456.5" y="187.6" font-size="5.3" font-style="italic" fill="#333">IGLL5</text>
<text x="456.3" y="195.20" font-size="5.3" font-style="italic" fill="#333">KMT2D</text>
<text x="456.3" y="199.76" font-size="5.3" font-style="italic" fill="#333">CREBBP</text>
<text x="456.3" y="204.32" font-size="5.3" font-style="italic" fill="#333">BCL2</text>
<text x="456.3" y="208.88" font-size="5.3" font-style="italic" fill="#333">IGLL5</text>
<text x="456.3" y="213.44" font-size="5.3" font-style="italic" fill="#333">HIST1H2</text>
<text x="456.3" y="218.00" font-size="5.3" font-style="italic" fill="#333">HIST1H1</text>
<text x="456.3" y="222.56" font-size="5.3" font-style="italic" fill="#333">TNFRSF14</text>
<text x="456.3" y="227.12" font-size="5.3" font-style="italic" fill="#333">FOXO1</text>
<text x="456.3" y="231.68" font-size="5.3" font-style="italic" fill="#333">BTG1</text>
<text x="456.3" y="236.24" font-size="5.3" font-style="italic" fill="#333">STAT6</text>
<text x="456.3" y="240.80" font-size="5.3" font-style="italic" fill="#333">EZH2</text>
<text x="456.3" y="245.36" font-size="5.3" font-style="italic" fill="#333">IRF8</text>
<text x="456.3" y="249.92" font-size="5.3" font-style="italic" fill="#333">MEF2B</text>
<text x="456.3" y="254.48" font-size="5.3" font-style="italic" fill="#333">CARD11</text>
<text x="456.3" y="259.04" font-size="5.3" font-style="italic" fill="#333">SOCS1</text>
<text x="456.3" y="263.60" font-size="5.3" font-style="italic" fill="#333">TNFAIP3</text>
<text x="456.3" y="268.16" font-size="5.3" font-style="italic" fill="#333">ARID1A</text>
<text x="456.3" y="272.72" font-size="5.3" font-style="italic" fill="#333">EGR1</text>
<text x="456.3" y="277.28" font-size="5.3" font-style="italic" fill="#333">BTG2</text>
<text x="456.3" y="281.84" font-size="5.3" font-style="italic" fill="#333">EP300</text>
<text x="456.3" y="286.40" font-size="5.3" font-style="italic" fill="#333">FAS</text>
<text x="456.3" y="290.96" font-size="5.3" font-style="italic" fill="#333">GNA13</text>
<text x="456.3" y="295.52" font-size="5.3" font-style="italic" fill="#333">HIST1H3H</text>
<text x="456.3" y="300.08" font-size="5.3" font-style="italic" fill="#333">RHOA</text>
<text x="456.3" y="304.64" font-size="5.3" font-style="italic" fill="#333">SGK1</text>
<text x="456.3" y="309.20" font-size="5.3" font-style="italic" fill="#333">TBL1XR1</text>
<text x="456.3" y="313.76" font-size="5.3" font-style="italic" fill="#333">B2M</text>
<text x="485" y="176.4" font-size="5.6" text-anchor="middle" fill="#333">0</text>
<text x="492.3" y="176.4" font-size="5.6" text-anchor="middle" fill="#333">20</text>
<text x="501" y="176.4" font-size="5.6" text-anchor="middle" fill="#333">40</text>
<rect x="485" y="178" width="24" height="1.1" fill="#33475E"/>
<rect x="485" y="179.5" width="18.8" height="3.1" fill="#1A80B8"/>
<rect x="485" y="184.6" width="10" height="2.4" fill="#1A86C0"/>
<rect x="485.2" y="192.90" width="9.70" height="2.0" fill="#3570B8"/>
<rect x="485.2" y="197.46" width="7.40" height="2.0" fill="#3570B8"/>
<rect x="485.2" y="202.02" width="7.40" height="2.0" fill="#3570B8"/>
<rect x="485.2" y="206.58" width="5.40" height="2.0" fill="#3570B8"/>
<rect x="485.2" y="211.14" width="3.70" height="2.0" fill="#3570B8"/>
<rect x="485.2" y="215.70" width="4.20" height="2.0" fill="#3570B8"/>
<rect x="485.2" y="220.26" width="2.80" height="2.0" fill="#3570B8"/>
<rect x="485.2" y="224.82" width="2.80" height="2.0" fill="#3570B8"/>
<rect x="485.2" y="229.38" width="2.50" height="2.0" fill="#3570B8"/>
<rect x="485.2" y="233.94" width="2.20" height="2.0" fill="#3570B8"/>
<rect x="485.2" y="238.50" width="2.00" height="2.0" fill="#3570B8"/>
<rect x="485.2" y="243.06" width="1.80" height="2.0" fill="#3570B8"/>
<rect x="485.2" y="247.62" width="1.60" height="2.0" fill="#3570B8"/>
<rect x="485.2" y="252.18" width="1.50" height="2.0" fill="#3570B8"/>
<rect x="485.2" y="256.74" width="1.40" height="2.0" fill="#3570B8"/>
<rect x="485.2" y="261.30" width="1.30" height="2.0" fill="#3570B8"/>
<rect x="485.2" y="265.86" width="1.20" height="2.0" fill="#3570B8"/>
<rect x="485.2" y="270.42" width="1.20" height="2.0" fill="#3570B8"/>
<rect x="485.2" y="274.98" width="1.10" height="2.0" fill="#3570B8"/>
<rect x="485.2" y="279.54" width="1.10" height="2.0" fill="#3570B8"/>
<rect x="485.2" y="284.10" width="1.00" height="2.0" fill="#3570B8"/>
<rect x="485.2" y="288.66" width="1.00" height="2.0" fill="#3570B8"/>
<rect x="485.2" y="293.22" width="1.00" height="2.0" fill="#3570B8"/>
<rect x="485.2" y="297.78" width="1.00" height="2.0" fill="#3570B8"/>
<rect x="485.2" y="302.34" width="0.90" height="2.0" fill="#3570B8"/>
<rect x="485.2" y="306.90" width="0.90" height="2.0" fill="#3570B8"/>
<rect x="485.2" y="311.46" width="0.50" height="2.0" fill="#3570B8"/>
<text transform="translate(54.20,318.3) rotate(-90)" font-size="5.2" text-anchor="end" fill="#333">318</text>
<text transform="translate(66.05,318.3) rotate(-90)" font-size="5.2" text-anchor="end" fill="#333">327</text>
<text transform="translate(77.90,318.3) rotate(-90)" font-size="5.2" text-anchor="end" fill="#333">302</text>
<text transform="translate(89.75,318.3) rotate(-90)" font-size="5.2" text-anchor="end" fill="#333">305</text>
<text transform="translate(101.60,318.3) rotate(-90)" font-size="5.2" text-anchor="end" fill="#333">324</text>
<text transform="translate(113.45,318.3) rotate(-90)" font-size="5.2" text-anchor="end" fill="#333">310</text>
<text transform="translate(125.30,318.3) rotate(-90)" font-size="5.2" text-anchor="end" fill="#333">307</text>
<text transform="translate(137.15,318.3) rotate(-90)" font-size="5.2" text-anchor="end" fill="#333">304</text>
<text transform="translate(149.00,318.3) rotate(-90)" font-size="5.2" text-anchor="end" fill="#333">303</text>
<text transform="translate(160.85,318.3) rotate(-90)" font-size="5.2" text-anchor="end" fill="#333">308</text>
<text transform="translate(172.70,318.3) rotate(-90)" font-size="5.2" text-anchor="end" fill="#333">301</text>
<text transform="translate(184.55,318.3) rotate(-90)" font-size="5.2" text-anchor="end" fill="#333">317</text>
<text transform="translate(196.40,318.3) rotate(-90)" font-size="5.2" text-anchor="end" fill="#333">321</text>
<text transform="translate(211.80,318.3) rotate(-90)" font-size="5.2" text-anchor="end" fill="#333">314</text>
<text transform="translate(223.72,318.3) rotate(-90)" font-size="5.2" text-anchor="end" fill="#333">306</text>
<text transform="translate(235.64,318.3) rotate(-90)" font-size="5.2" text-anchor="end" fill="#333">309</text>
<text transform="translate(247.56,318.3) rotate(-90)" font-size="5.2" text-anchor="end" fill="#333">326</text>
<text transform="translate(259.48,318.3) rotate(-90)" font-size="5.2" text-anchor="end" fill="#333">329</text>
<text transform="translate(271.40,318.3) rotate(-90)" font-size="5.2" text-anchor="end" fill="#333">320</text>
<text transform="translate(283.32,318.3) rotate(-90)" font-size="5.2" text-anchor="end" fill="#333">300</text>
<text transform="translate(295.24,318.3) rotate(-90)" font-size="5.2" text-anchor="end" fill="#333">296</text>
<text transform="translate(307.16,318.3) rotate(-90)" font-size="5.2" text-anchor="end" fill="#333">319</text>
<text transform="translate(319.08,318.3) rotate(-90)" font-size="5.2" text-anchor="end" fill="#333">313</text>
<text transform="translate(331.00,318.3) rotate(-90)" font-size="5.2" text-anchor="end" fill="#333">204</text>
<text transform="translate(342.92,318.3) rotate(-90)" font-size="5.2" text-anchor="end" fill="#333">208</text>
<text transform="translate(354.84,318.3) rotate(-90)" font-size="5.2" text-anchor="end" fill="#333">311</text>
<text transform="translate(366.76,318.3) rotate(-90)" font-size="5.2" text-anchor="end" fill="#333">323</text>
<text transform="translate(378.68,318.3) rotate(-90)" font-size="5.2" text-anchor="end" fill="#333">320</text>
<text transform="translate(390.60,318.3) rotate(-90)" font-size="5.2" text-anchor="end" fill="#333">312</text>
<text transform="translate(402.52,318.3) rotate(-90)" font-size="5.2" text-anchor="end" fill="#333">317</text>
<text transform="translate(414.44,318.3) rotate(-90)" font-size="5.2" text-anchor="end" fill="#333">315</text>
<text transform="translate(426.36,318.3) rotate(-90)" font-size="5.2" text-anchor="end" fill="#333">322</text>
<text transform="translate(438.28,318.3) rotate(-90)" font-size="5.2" text-anchor="end" fill="#333">316</text>
<text transform="translate(450.20,318.3) rotate(-90)" font-size="5.2" text-anchor="end" fill="#333">326</text>
</g>
<g id="C">
<text x="8.3" y="358.0" font-size="10.0" font-weight="bold">C</text>
<line x1="61.5" y1="355.0" x2="61.5" y2="496.0" stroke="#5A5A5A" stroke-width="1.0"/>
<line x1="61.0" y1="495.5" x2="103.2" y2="495.5" stroke="#5A5A5A" stroke-width="1.0"/>
<line x1="59.9" y1="489.5" x2="61.5" y2="489.5" stroke="#333" stroke-width="0.6"/>
<text x="58.6" y="492.2" font-size="7.7" text-anchor="end" fill="#222">0</text>
<line x1="59.9" y1="460.2" x2="61.5" y2="460.2" stroke="#333" stroke-width="0.6"/>
<text x="58.6" y="462.9" font-size="7.7" text-anchor="end" fill="#222">5</text>
<line x1="59.9" y1="430.9" x2="61.5" y2="430.9" stroke="#333" stroke-width="0.6"/>
<text x="58.6" y="433.6" font-size="7.7" text-anchor="end" fill="#222">10</text>
<line x1="59.9" y1="401.6" x2="61.5" y2="401.6" stroke="#333" stroke-width="0.6"/>
<text x="58.6" y="404.3" font-size="7.7" text-anchor="end" fill="#222">15</text>
<line x1="59.9" y1="372.3" x2="61.5" y2="372.3" stroke="#333" stroke-width="0.6"/>
<text x="58.6" y="375.0" font-size="7.7" text-anchor="end" fill="#222">20</text>
<text transform="translate(44.5,431.0) rotate(-90)" font-size="7.4" text-anchor="middle" fill="#333">Case count</text>
<rect x="64.3" y="413.3" width="17.3" height="58.6" fill="#8E1518" stroke="#3A2A2A" stroke-width="0.5"/>
<rect x="64.3" y="471.9" width="17.3" height="17.6" fill="#1B9DD9" stroke="#2A3A4A" stroke-width="0.5"/>
<rect x="84.1" y="360.6" width="17.1" height="93.8" fill="#8E1518" stroke="#3A2A2A" stroke-width="0.5"/>
<rect x="84.1" y="454.3" width="17.1" height="35.2" fill="#1B9DD9" stroke="#2A3A4A" stroke-width="0.5"/>
<line x1="73.0" y1="495.5" x2="73.0" y2="497.1" stroke="#333" stroke-width="0.6"/>
<line x1="92.6" y1="495.5" x2="92.6" y2="497.1" stroke="#333" stroke-width="0.6"/>
<text transform="translate(74.0,502.0) rotate(-45)" font-size="7.4" text-anchor="end" fill="#222">Detected</text>
<text transform="translate(93.5,502.0) rotate(-45)" font-size="7.4" text-anchor="end" fill="#222">Not</text>
<text transform="translate(97.5,507.8) rotate(-45)" font-size="7.4" text-anchor="end" fill="#222">detected</text>
<text x="12.5" y="468.8" font-size="7.4" fill="#333">Specimen</text>
<rect x="12.8" y="471.7" width="6.5" height="6.4" fill="#8E1518"/><text x="21" y="477.6" font-size="7.4" fill="#333">Blood</text>
<rect x="12.8" y="480.4" width="6.5" height="6.4" fill="#1B9AD2"/><text x="21" y="486.3" font-size="7.4" fill="#333">Saliva</text>
</g>
<g id="D">
<text x="120.6" y="358.3" font-size="10.0" font-weight="bold">D</text>
<line x1="153.5" y1="355.0" x2="153.5" y2="496.0" stroke="#5A5A5A" stroke-width="1.0"/>
<line x1="153.0" y1="495.5" x2="196.3" y2="495.5" stroke="#5A5A5A" stroke-width="1.0"/>
<line x1="151.9" y1="390.7" x2="153.5" y2="390.7" stroke="#333" stroke-width="0.6"/>
<text x="150.6" y="393.4" font-size="7.7" text-anchor="end" fill="#222">1.00</text>
<line x1="151.9" y1="426.0" x2="153.5" y2="426.0" stroke="#333" stroke-width="0.6"/>
<text x="150.6" y="428.7" font-size="7.7" text-anchor="end" fill="#222">0.13</text>
<line x1="151.9" y1="461.1" x2="153.5" y2="461.1" stroke="#333" stroke-width="0.6"/>
<text x="150.6" y="463.8" font-size="7.7" text-anchor="end" fill="#222">0.02</text>
<text transform="translate(130.3,427.0) rotate(-90)" font-size="7.4" text-anchor="middle" fill="#333">Variant AF (%)</text>
<text x="159.5" y="357.8" font-size="7.4" fill="#222">Wilcoxon,</text>
<text x="160.0" y="365.7" font-size="7.4" fill="#222"><tspan font-style="italic">P</tspan> &lt; 0.001</text>
<line x1="164.7" y1="372.8" x2="164.7" y2="402.1" stroke="#8C8C8C" stroke-width="1.0"/>
<line x1="164.7" y1="454.6" x2="164.7" y2="488.2" stroke="#8C8C8C" stroke-width="1.0"/>
<rect x="157.3" y="402.1" width="14.8" height="52.5" fill="#8E1518" stroke="#444" stroke-width="0.5"/>
<line x1="157.3" y1="418.0" x2="172.1" y2="418.0" stroke="#333" stroke-width="0.6"/>
<circle cx="160.5" cy="373.7" r="0.95" fill="#111"/>
<circle cx="168.7" cy="375.8" r="0.95" fill="#111"/>
<circle cx="167.8" cy="374.6" r="0.95" fill="#111"/>
<circle cx="161.9" cy="376.2" r="0.95" fill="#111"/>
<circle cx="164.7" cy="376.4" r="0.95" fill="#111"/>
<circle cx="164.2" cy="372.5" r="0.95" fill="#111"/>
<circle cx="166.5" cy="372.1" r="0.95" fill="#111"/>
<circle cx="168.1" cy="377.9" r="0.95" fill="#111"/>
<circle cx="160.1" cy="373.8" r="0.95" fill="#111"/>
<circle cx="159.3" cy="373.6" r="0.95" fill="#111"/>
<circle cx="168.6" cy="379.0" r="0.95" fill="#111"/>
<circle cx="164.0" cy="375.3" r="0.95" fill="#111"/>
<circle cx="167.8" cy="377.9" r="0.95" fill="#111"/>
<circle cx="159.0" cy="375.3" r="0.95" fill="#111"/>
<circle cx="164.1" cy="376.5" r="0.95" fill="#111"/>
<circle cx="167.3" cy="373.1" r="0.95" fill="#111"/>
<circle cx="161.6" cy="396.6" r="0.95" fill="#111"/>
<circle cx="169.9" cy="399.4" r="0.95" fill="#111"/>
<circle cx="169.4" cy="395.3" r="0.95" fill="#111"/>
<circle cx="159.4" cy="397.9" r="0.95" fill="#111"/>
<circle cx="159.3" cy="397.1" r="0.95" fill="#111"/>
<circle cx="165.2" cy="389.8" r="0.95" fill="#111"/>
<circle cx="169.8" cy="398.1" r="0.95" fill="#111"/>
<circle cx="163.4" cy="396.1" r="0.95" fill="#111"/>
<circle cx="161.5" cy="418.0" r="0.95" fill="#111"/>
<circle cx="163.9" cy="403.6" r="0.95" fill="#111"/>
<circle cx="159.3" cy="447.9" r="0.95" fill="#111"/>
<circle cx="161.5" cy="427.1" r="0.95" fill="#111"/>
<circle cx="164.0" cy="440.1" r="0.95" fill="#111"/>
<circle cx="164.7" cy="448.6" r="0.95" fill="#111"/>
<circle cx="161.7" cy="439.8" r="0.95" fill="#111"/>
<circle cx="161.7" cy="450.8" r="0.95" fill="#111"/>
<circle cx="161.5" cy="422.9" r="0.95" fill="#111"/>
<circle cx="164.3" cy="444.4" r="0.95" fill="#111"/>
<circle cx="162.3" cy="425.6" r="0.95" fill="#111"/>
<circle cx="159.2" cy="451.6" r="0.95" fill="#111"/>
<circle cx="168.6" cy="448.6" r="0.95" fill="#111"/>
<circle cx="165.4" cy="407.2" r="0.95" fill="#111"/>
<circle cx="166.4" cy="409.2" r="0.95" fill="#111"/>
<circle cx="161.1" cy="413.5" r="0.95" fill="#111"/>
<circle cx="170.4" cy="453.2" r="0.95" fill="#111"/>
<circle cx="168.9" cy="425.1" r="0.95" fill="#111"/>
<circle cx="160.4" cy="435.2" r="0.95" fill="#111"/>
<circle cx="162.8" cy="418.0" r="0.95" fill="#111"/>
<circle cx="167.3" cy="428.9" r="0.95" fill="#111"/>
<circle cx="167.2" cy="422.5" r="0.95" fill="#111"/>
<circle cx="169.8" cy="420.6" r="0.95" fill="#111"/>
<circle cx="163.9" cy="433.0" r="0.95" fill="#111"/>
<circle cx="168.5" cy="433.0" r="0.95" fill="#111"/>
<circle cx="166.7" cy="449.9" r="0.95" fill="#111"/>
<circle cx="162.5" cy="438.1" r="0.95" fill="#111"/>
<circle cx="165.8" cy="451.2" r="0.95" fill="#111"/>
<circle cx="169.1" cy="447.4" r="0.95" fill="#111"/>
<circle cx="168.7" cy="454.5" r="0.95" fill="#111"/>
<circle cx="164.8" cy="437.6" r="0.95" fill="#111"/>
<circle cx="165.8" cy="410.6" r="0.95" fill="#111"/>
<circle cx="159.4" cy="447.6" r="0.95" fill="#111"/>
<circle cx="161.8" cy="453.1" r="0.95" fill="#111"/>
<circle cx="168.2" cy="449.9" r="0.95" fill="#111"/>
<circle cx="163.8" cy="432.2" r="0.95" fill="#111"/>
<circle cx="161.0" cy="439.8" r="0.95" fill="#111"/>
<circle cx="165.3" cy="413.2" r="0.95" fill="#111"/>
<circle cx="167.1" cy="446.1" r="0.95" fill="#111"/>
<circle cx="166.8" cy="432.4" r="0.95" fill="#111"/>
<circle cx="163.3" cy="417.1" r="0.95" fill="#111"/>
<circle cx="164.0" cy="405.4" r="0.95" fill="#111"/>
<circle cx="164.8" cy="447.3" r="0.95" fill="#111"/>
<circle cx="168.0" cy="454.5" r="0.95" fill="#111"/>
<circle cx="165.0" cy="406.7" r="0.95" fill="#111"/>
<circle cx="163.5" cy="470.2" r="0.95" fill="#111"/>
<circle cx="164.6" cy="462.8" r="0.95" fill="#111"/>
<circle cx="159.3" cy="457.9" r="0.95" fill="#111"/>
<circle cx="159.5" cy="460.6" r="0.95" fill="#111"/>
<circle cx="167.1" cy="469.6" r="0.95" fill="#111"/>
<circle cx="170.3" cy="471.6" r="0.95" fill="#111"/>
<circle cx="165.8" cy="455.8" r="0.95" fill="#111"/>
<circle cx="163.5" cy="466.7" r="0.95" fill="#111"/>
<circle cx="161.0" cy="455.9" r="0.95" fill="#111"/>
<circle cx="164.8" cy="468.7" r="0.95" fill="#111"/>
<circle cx="170.3" cy="461.3" r="0.95" fill="#111"/>
<circle cx="167.9" cy="471.7" r="0.95" fill="#111"/>
<circle cx="165.2" cy="473.6" r="0.95" fill="#111"/>
<circle cx="168.9" cy="464.6" r="0.95" fill="#111"/>
<circle cx="161.7" cy="474.0" r="0.95" fill="#111"/>
<circle cx="164.9" cy="460.9" r="0.95" fill="#111"/>
<circle cx="170.0" cy="456.5" r="0.95" fill="#111"/>
<circle cx="165.6" cy="466.4" r="0.95" fill="#111"/>
<circle cx="164.3" cy="455.6" r="0.95" fill="#111"/>
<circle cx="162.1" cy="458.8" r="0.95" fill="#111"/>
<circle cx="165.3" cy="462.8" r="0.95" fill="#111"/>
<circle cx="170.0" cy="466.6" r="0.95" fill="#111"/>
<circle cx="159.1" cy="477.6" r="0.95" fill="#111"/>
<circle cx="168.0" cy="477.2" r="0.95" fill="#111"/>
<circle cx="168.4" cy="480.5" r="0.95" fill="#111"/>
<circle cx="169.2" cy="478.3" r="0.95" fill="#111"/>
<circle cx="167.5" cy="480.8" r="0.95" fill="#111"/>
<circle cx="168.3" cy="480.6" r="0.95" fill="#111"/>
<circle cx="165.0" cy="478.5" r="0.95" fill="#111"/>
<circle cx="165.5" cy="478.8" r="0.95" fill="#111"/>
<circle cx="163.9" cy="488.0" r="0.95" fill="#111"/>
<line x1="184.7" y1="415.5" x2="184.7" y2="447.7" stroke="#8C8C8C" stroke-width="1.0"/>
<line x1="184.7" y1="467.7" x2="184.7" y2="485.4" stroke="#8C8C8C" stroke-width="1.0"/>
<rect x="177.3" y="447.7" width="14.8" height="20.0" fill="#1B9AD2" stroke="#444" stroke-width="0.5"/>
<line x1="177.3" y1="458.0" x2="192.1" y2="458.0" stroke="#333" stroke-width="0.6"/>
<circle cx="190.0" cy="414.8" r="0.95" fill="#111"/>
<circle cx="189.9" cy="414.8" r="0.95" fill="#111"/>
<circle cx="179.7" cy="430.0" r="0.95" fill="#111"/>
<circle cx="180.0" cy="437.0" r="0.95" fill="#111"/>
<circle cx="188.6" cy="441.0" r="0.95" fill="#111"/>
<circle cx="187.5" cy="443.0" r="0.95" fill="#111"/>
<circle cx="186.7" cy="444.5" r="0.95" fill="#111"/>
<circle cx="182.5" cy="446.0" r="0.95" fill="#111"/>
<circle cx="186.0" cy="457.9" r="0.95" fill="#111"/>
<circle cx="186.0" cy="460.2" r="0.95" fill="#111"/>
<circle cx="185.7" cy="459.3" r="0.95" fill="#111"/>
<circle cx="180.8" cy="458.6" r="0.95" fill="#111"/>
<circle cx="184.0" cy="459.8" r="0.95" fill="#111"/>
<circle cx="183.5" cy="465.9" r="0.95" fill="#111"/>
<circle cx="187.3" cy="457.6" r="0.95" fill="#111"/>
<circle cx="190.4" cy="456.2" r="0.95" fill="#111"/>
<circle cx="189.9" cy="461.7" r="0.95" fill="#111"/>
<circle cx="185.3" cy="452.5" r="0.95" fill="#111"/>
<circle cx="184.1" cy="453.7" r="0.95" fill="#111"/>
<circle cx="182.1" cy="466.6" r="0.95" fill="#111"/>
<circle cx="179.4" cy="470.0" r="0.95" fill="#111"/>
<circle cx="179.3" cy="472.0" r="0.95" fill="#111"/>
<circle cx="184.3" cy="475.0" r="0.95" fill="#111"/>
<circle cx="182.7" cy="478.0" r="0.95" fill="#111"/>
<circle cx="183.4" cy="480.0" r="0.95" fill="#111"/>
<circle cx="189.3" cy="483.0" r="0.95" fill="#111"/>
<circle cx="185.0" cy="485.5" r="0.95" fill="#111"/>
<line x1="164.7" y1="495.5" x2="164.7" y2="497.1" stroke="#333" stroke-width="0.6"/>
<line x1="184.7" y1="495.5" x2="184.7" y2="497.1" stroke="#333" stroke-width="0.6"/>
<text transform="translate(165.5,502.0) rotate(-45)" font-size="7.4" text-anchor="end" fill="#222">Blood</text>
<text transform="translate(185.5,502.0) rotate(-45)" font-size="7.4" text-anchor="end" fill="#222">Saliva</text>
</g>
<g id="E">
<text x="210.8" y="358.3" font-size="10.0" font-weight="bold">E</text>
<line x1="239.5" y1="357.0" x2="239.5" y2="496.0" stroke="#5A5A5A" stroke-width="1.0"/>
<line x1="239.0" y1="495.5" x2="282.5" y2="495.5" stroke="#5A5A5A" stroke-width="1.0"/>
<line x1="237.9" y1="361.9" x2="239.5" y2="361.9" stroke="#333" stroke-width="0.6"/>
<text x="236.6" y="364.6" font-size="7.7" text-anchor="end" fill="#222">90</text>
<line x1="237.9" y1="388.0" x2="239.5" y2="388.0" stroke="#333" stroke-width="0.6"/>
<text x="236.6" y="390.7" font-size="7.7" text-anchor="end" fill="#222">80</text>
<line x1="237.9" y1="414.1" x2="239.5" y2="414.1" stroke="#333" stroke-width="0.6"/>
<text x="236.6" y="416.8" font-size="7.7" text-anchor="end" fill="#222">70</text>
<line x1="237.9" y1="440.2" x2="239.5" y2="440.2" stroke="#333" stroke-width="0.6"/>
<text x="236.6" y="442.9" font-size="7.7" text-anchor="end" fill="#222">60</text>
<line x1="237.9" y1="466.3" x2="239.5" y2="466.3" stroke="#333" stroke-width="0.6"/>
<text x="236.6" y="469.0" font-size="7.7" text-anchor="end" fill="#222">50</text>
<line x1="237.9" y1="492.4" x2="239.5" y2="492.4" stroke="#333" stroke-width="0.6"/>
<text x="236.6" y="495.1" font-size="7.7" text-anchor="end" fill="#222">40</text>
<text transform="translate(223.0,426.0) rotate(-90)" font-size="7.4" text-anchor="middle" fill="#333">Age at screening</text>
<text x="244.0" y="357.8" font-size="7.4" fill="#222">Wilcoxon,</text>
<text x="244.5" y="365.7" font-size="7.4" fill="#222"><tspan font-style="italic">P</tspan> = 0.71</text>
<line x1="251.0" y1="403.5" x2="251.0" y2="411.2" stroke="#8C8C8C" stroke-width="1.0"/>
<line x1="251.0" y1="429.8" x2="251.0" y2="449.7" stroke="#8C8C8C" stroke-width="1.0"/>
<rect x="243.9" y="411.2" width="14.2" height="18.6" fill="#EE5B3D" stroke="#444" stroke-width="0.5"/>
<line x1="243.9" y1="414.1" x2="258.1" y2="414.1" stroke="#333" stroke-width="0.6"/>
<circle cx="248.0" cy="380.2" r="0.95" fill="#111"/>
<circle cx="246.9" cy="403.1" r="0.95" fill="#111"/>
<circle cx="246.9" cy="408.7" r="0.95" fill="#111"/>
<circle cx="250.7" cy="412.6" r="0.95" fill="#111"/>
<circle cx="255.2" cy="411.9" r="0.95" fill="#111"/>
<circle cx="252.0" cy="416.6" r="0.95" fill="#111"/>
<circle cx="252.0" cy="430.2" r="0.95" fill="#111"/>
<circle cx="247.0" cy="451.0" r="0.95" fill="#111"/>
<circle cx="248.5" cy="488.5" r="0.95" fill="#111"/>
<circle cx="255.0" cy="484.6" r="0.95" fill="#111"/>
<line x1="270.5" y1="396.3" x2="270.5" y2="407.2" stroke="#8C8C8C" stroke-width="1.0"/>
<line x1="270.5" y1="431.6" x2="270.5" y2="467.0" stroke="#8C8C8C" stroke-width="1.0"/>
<rect x="263.1" y="407.2" width="14.7" height="24.4" fill="#BDBDBD" stroke="#444" stroke-width="0.5"/>
<line x1="263.1" y1="412.6" x2="277.8" y2="412.6" stroke="#333" stroke-width="0.6"/>
<circle cx="271.6" cy="396.3" r="0.95" fill="#111"/>
<circle cx="266.5" cy="400.6" r="0.95" fill="#111"/>
<circle cx="266.8" cy="406.0" r="0.95" fill="#111"/>
<circle cx="271.3" cy="406.0" r="0.95" fill="#111"/>
<circle cx="274.0" cy="406.0" r="0.95" fill="#111"/>
<circle cx="270.5" cy="409.4" r="0.95" fill="#111"/>
<circle cx="274.0" cy="409.4" r="0.95" fill="#111"/>
<circle cx="265.6" cy="411.7" r="0.95" fill="#111"/>
<circle cx="269.5" cy="411.7" r="0.95" fill="#111"/>
<circle cx="269.5" cy="414.4" r="0.95" fill="#111"/>
<circle cx="273.0" cy="414.0" r="0.95" fill="#111"/>
<circle cx="271.9" cy="424.8" r="0.95" fill="#111"/>
<circle cx="266.9" cy="432.0" r="0.95" fill="#111"/>
<circle cx="273.7" cy="430.7" r="0.95" fill="#111"/>
<circle cx="267.0" cy="461.5" r="0.95" fill="#111"/>
<circle cx="268.4" cy="488.5" r="0.95" fill="#111"/>
<circle cx="271.3" cy="488.5" r="0.95" fill="#111"/>
<line x1="251.0" y1="495.5" x2="251.0" y2="497.1" stroke="#333" stroke-width="0.6"/>
<line x1="270.4" y1="495.5" x2="270.4" y2="497.1" stroke="#333" stroke-width="0.6"/>
<text transform="translate(252.0,502.5) rotate(-45)" font-size="7.4" text-anchor="end" fill="#222">Detected</text>
<text transform="translate(271.5,502.5) rotate(-45)" font-size="7.4" text-anchor="end" fill="#222">Not</text>
<text transform="translate(275.5,508.3) rotate(-45)" font-size="7.4" text-anchor="end" fill="#222">detected</text>
</g>
<g id="F">
<text x="295.4" y="358.3" font-size="10.0" font-weight="bold">F</text>
<line x1="330.5" y1="357.0" x2="330.5" y2="496.5" stroke="#5A5A5A" stroke-width="1.0"/>
<line x1="330.0" y1="496.0" x2="372.9" y2="496.0" stroke="#5A5A5A" stroke-width="1.0"/>
<line x1="328.9" y1="362.8" x2="330.5" y2="362.8" stroke="#333" stroke-width="0.6"/>
<text x="327.6" y="365.5" font-size="7.7" text-anchor="end" fill="#222">150</text>
<line x1="328.9" y1="406.8" x2="330.5" y2="406.8" stroke="#333" stroke-width="0.6"/>
<text x="327.6" y="409.5" font-size="7.7" text-anchor="end" fill="#222">100</text>
<line x1="328.9" y1="450.8" x2="330.5" y2="450.8" stroke="#333" stroke-width="0.6"/>
<text x="327.6" y="453.5" font-size="7.7" text-anchor="end" fill="#222">50</text>
<line x1="328.9" y1="494.8" x2="330.5" y2="494.8" stroke="#333" stroke-width="0.6"/>
<text x="327.6" y="497.5" font-size="7.7" text-anchor="end" fill="#222">0</text>
<text transform="translate(309.5,426.0) rotate(-90)" font-size="7.4" text-anchor="middle" fill="#333">Time to diagnosis (months)</text>
<text x="335.6" y="357.8" font-size="7.4" fill="#222">Wilcoxon,</text>
<text x="336.1" y="365.7" font-size="7.4" fill="#222"><tspan font-style="italic">P</tspan> = 0.31</text>
<line x1="341.6" y1="386.1" x2="341.6" y2="418.3" stroke="#8C8C8C" stroke-width="1.0"/>
<line x1="341.6" y1="476.3" x2="341.6" y2="485.2" stroke="#8C8C8C" stroke-width="1.0"/>
<rect x="334.3" y="418.3" width="14.5" height="58.0" fill="#EE5B3D" stroke="#444" stroke-width="0.5"/>
<line x1="334.3" y1="452.5" x2="348.8" y2="452.5" stroke="#333" stroke-width="0.6"/>
<circle cx="342.8" cy="386.1" r="0.95" fill="#111"/>
<circle cx="345.1" cy="403.6" r="0.95" fill="#111"/>
<circle cx="341.6" cy="416.1" r="0.95" fill="#111"/>
<circle cx="344.5" cy="418.3" r="0.95" fill="#111"/>
<circle cx="340.6" cy="432.5" r="0.95" fill="#111"/>
<circle cx="343.0" cy="440.0" r="0.95" fill="#111"/>
<circle cx="343.7" cy="452.3" r="0.95" fill="#111"/>
<circle cx="338.0" cy="456.1" r="0.95" fill="#111"/>
<circle cx="339.4" cy="462.6" r="0.95" fill="#111"/>
<circle cx="342.3" cy="477.3" r="0.95" fill="#111"/>
<circle cx="338.2" cy="482.5" r="0.95" fill="#111"/>
<circle cx="342.8" cy="485.2" r="0.95" fill="#111"/>
<circle cx="340.3" cy="489.3" r="0.95" fill="#111"/>
<line x1="360.9" y1="390.1" x2="360.9" y2="428.0" stroke="#8C8C8C" stroke-width="1.0"/>
<line x1="360.9" y1="455.4" x2="360.9" y2="478.2" stroke="#8C8C8C" stroke-width="1.0"/>
<rect x="353.4" y="428.0" width="14.9" height="27.4" fill="#BDBDBD" stroke="#444" stroke-width="0.5"/>
<line x1="353.4" y1="444.3" x2="368.3" y2="444.3" stroke="#333" stroke-width="0.6"/>
<circle cx="357.9" cy="384.9" r="0.95" fill="#111"/>
<circle cx="365.6" cy="389.4" r="0.95" fill="#111"/>
<circle cx="364.2" cy="396.4" r="0.95" fill="#111"/>
<circle cx="360.0" cy="428.4" r="0.95" fill="#111"/>
<circle cx="364.2" cy="429.4" r="0.95" fill="#111"/>
<circle cx="361.3" cy="444.8" r="0.95" fill="#111"/>
<circle cx="361.5" cy="446.0" r="0.95" fill="#111"/>
<circle cx="365.1" cy="444.1" r="0.95" fill="#111"/>
<circle cx="365.1" cy="452.9" r="0.95" fill="#111"/>
<circle cx="360.8" cy="455.4" r="0.95" fill="#111"/>
<circle cx="360.8" cy="460.6" r="0.95" fill="#111"/>
<circle cx="365.1" cy="462.6" r="0.95" fill="#111"/>
<circle cx="360.5" cy="466.5" r="0.95" fill="#111"/>
<circle cx="360.1" cy="478.2" r="0.95" fill="#111"/>
<line x1="342.0" y1="496.0" x2="342.0" y2="497.6" stroke="#333" stroke-width="0.6"/>
<line x1="361.2" y1="496.0" x2="361.2" y2="497.6" stroke="#333" stroke-width="0.6"/>
<text transform="translate(343.0,503.2) rotate(-45)" font-size="7.4" text-anchor="end" fill="#222">Detected</text>
<text transform="translate(362.5,503.2) rotate(-45)" font-size="7.4" text-anchor="end" fill="#222">Not</text>
<text transform="translate(366.5,509.0) rotate(-45)" font-size="7.4" text-anchor="end" fill="#222">detected</text>
</g>
<g id="G">
<text x="396.5" y="358.3" font-size="10.0" font-weight="bold">G</text>
<line x1="429.5" y1="355.0" x2="429.5" y2="496.5" stroke="#5A5A5A" stroke-width="1.0"/>
<line x1="429.0" y1="496.0" x2="472.3" y2="496.0" stroke="#5A5A5A" stroke-width="1.0"/>
<line x1="427.9" y1="369.6" x2="429.5" y2="369.6" stroke="#333" stroke-width="0.6"/>
<text x="426.6" y="372.3" font-size="7.7" text-anchor="end" fill="#222">150</text>
<line x1="427.9" y1="411.3" x2="429.5" y2="411.3" stroke="#333" stroke-width="0.6"/>
<text x="426.6" y="414.0" font-size="7.7" text-anchor="end" fill="#222">100</text>
<line x1="427.9" y1="453.0" x2="429.5" y2="453.0" stroke="#333" stroke-width="0.6"/>
<text x="426.6" y="455.7" font-size="7.7" text-anchor="end" fill="#222">50</text>
<line x1="427.9" y1="494.7" x2="429.5" y2="494.7" stroke="#333" stroke-width="0.6"/>
<text x="426.6" y="497.4" font-size="7.7" text-anchor="end" fill="#222">0</text>
<text transform="translate(410.0,426.0) rotate(-90)" font-size="7.4" text-anchor="middle" fill="#333">Time to diagnosis (months)</text>
<text x="434.0" y="357.5" font-size="7.4" fill="#222">Wilcoxon,</text>
<text x="434.5" y="365.4" font-size="7.4" fill="#222"><tspan font-style="italic">P</tspan> = 0.61</text>
<line x1="441.4" y1="371.5" x2="441.4" y2="411.3" stroke="#8C8C8C" stroke-width="1.0"/>
<line x1="441.4" y1="459.4" x2="441.4" y2="490.9" stroke="#8C8C8C" stroke-width="1.0"/>
<rect x="434.1" y="411.3" width="14.6" height="48.1" fill="#BDBDBD" stroke="#444" stroke-width="0.5"/>
<line x1="434.1" y1="447.0" x2="448.7" y2="447.0" stroke="#333" stroke-width="0.6"/>
<circle cx="443.7" cy="371.5" r="0.95" fill="#111"/>
<circle cx="440.6" cy="378.9" r="0.95" fill="#111"/>
<circle cx="441.9" cy="378.9" r="0.95" fill="#111"/>
<circle cx="436.3" cy="392.8" r="0.95" fill="#111"/>
<circle cx="439.1" cy="391.9" r="0.95" fill="#111"/>
<circle cx="442.8" cy="391.9" r="0.95" fill="#111"/>
<circle cx="442.8" cy="395.0" r="0.95" fill="#111"/>
<circle cx="441.9" cy="402.0" r="0.95" fill="#111"/>
<circle cx="440.6" cy="408.5" r="0.95" fill="#111"/>
<circle cx="436.9" cy="420.0" r="0.95" fill="#111"/>
<circle cx="440.6" cy="435.0" r="0.95" fill="#111"/>
<circle cx="443.7" cy="434.4" r="0.95" fill="#111"/>
<circle cx="445.0" cy="432.0" r="0.95" fill="#111"/>
<circle cx="442.4" cy="444.6" r="0.95" fill="#111"/>
<circle cx="441.0" cy="448.3" r="0.95" fill="#111"/>
<circle cx="442.0" cy="449.0" r="0.95" fill="#111"/>
<circle cx="443.5" cy="447.0" r="0.95" fill="#111"/>
<circle cx="440.0" cy="452.0" r="0.95" fill="#111"/>
<circle cx="444.7" cy="453.9" r="0.95" fill="#111"/>
<circle cx="436.3" cy="453.9" r="0.95" fill="#111"/>
<circle cx="439.5" cy="457.6" r="0.95" fill="#111"/>
<circle cx="442.8" cy="460.4" r="0.95" fill="#111"/>
<circle cx="436.9" cy="464.0" r="0.95" fill="#111"/>
<circle cx="443.7" cy="463.1" r="0.95" fill="#111"/>
<circle cx="445.6" cy="467.8" r="0.95" fill="#111"/>
<circle cx="441.9" cy="478.9" r="0.95" fill="#111"/>
<circle cx="436.9" cy="483.5" r="0.95" fill="#111"/>
<circle cx="441.9" cy="487.6" r="0.95" fill="#111"/>
<circle cx="440.6" cy="490.0" r="0.95" fill="#111"/>
<line x1="461.0" y1="413.5" x2="461.0" y2="417.6" stroke="#8C8C8C" stroke-width="1.0"/>
<line x1="461.0" y1="464.4" x2="461.0" y2="485.4" stroke="#8C8C8C" stroke-width="1.0"/>
<rect x="453.6" y="417.6" width="14.8" height="46.8" fill="#F6B116" stroke="#444" stroke-width="0.5"/>
<line x1="453.6" y1="436.9" x2="468.4" y2="436.9" stroke="#333" stroke-width="0.6"/>
<circle cx="458.6" cy="413.5" r="0.95" fill="#111"/>
<circle cx="460.4" cy="417.4" r="0.95" fill="#111"/>
<circle cx="465.0" cy="422.4" r="0.95" fill="#111"/>
<circle cx="458.6" cy="435.9" r="0.95" fill="#111"/>
<circle cx="455.8" cy="454.8" r="0.95" fill="#111"/>
<circle cx="461.0" cy="458.5" r="0.95" fill="#111"/>
<circle cx="456.7" cy="464.1" r="0.95" fill="#111"/>
<circle cx="460.4" cy="471.5" r="0.95" fill="#111"/>
<circle cx="459.5" cy="477.6" r="0.95" fill="#111"/>
<circle cx="456.7" cy="485.7" r="0.95" fill="#111"/>
<line x1="441.4" y1="496.0" x2="441.4" y2="497.6" stroke="#333" stroke-width="0.6"/>
<line x1="461.0" y1="496.0" x2="461.0" y2="497.6" stroke="#333" stroke-width="0.6"/>
<text transform="translate(440.5,503.9) rotate(-45)" font-size="7.4" text-anchor="end" fill="#222"><tspan font-style="italic">CREBBP</tspan></text>
<text transform="translate(444.3,508.7) rotate(-45)" font-size="7.4" text-anchor="end" fill="#222">WT</text>
<text transform="translate(461.2,503.9) rotate(-45)" font-size="7.4" text-anchor="end" fill="#222"><tspan font-style="italic">CREBBP</tspan></text>
<text transform="translate(465,508.5) rotate(-45)" font-size="7.4" text-anchor="end" fill="#222">KAT</text>
</g>
<g id="H">
<text x="9.2" y="557.6" font-size="10.0" font-weight="bold">H</text>
<text transform="translate(21,612) rotate(-90)" font-size="7.4" text-anchor="middle" fill="#333"># of <tspan font-style="italic">CREBBP</tspan> gene mutations</text>
<text x="27.4" y="573.8" font-size="7.4" text-anchor="middle" fill="#333">4</text>
<text x="27.4" y="586.0" font-size="7.4" text-anchor="middle" fill="#333">3</text>
<text x="27.4" y="598.2" font-size="7.4" text-anchor="middle" fill="#333">2</text>
<text x="27.4" y="610.6" font-size="7.4" text-anchor="middle" fill="#333">1</text>
<rect x="28" y="625.1" width="262.5" height="17.6" fill="#B1B1B1" stroke="#8A8A8A" stroke-width="0.4"/>
<rect x="65.8" y="623.7" width="8.6" height="19.6" rx="1" fill="#707070" stroke="#555" stroke-width="0.3"/>
<text x="70.1" y="634.5" font-size="2.2" text-anchor="middle" fill="#DDD" class="w">NZ</text>
<rect x="90.9" y="623.7" width="9.2" height="19.6" rx="1" fill="#707070" stroke="#555" stroke-width="0.3"/>
<text x="95.5" y="634.5" font-size="2.2" text-anchor="middle" fill="#DDD" class="w">RID</text>
<rect x="145.0" y="623.7" width="9.6" height="19.6" rx="1" fill="#707070" stroke="#555" stroke-width="0.3"/>
<text x="149.8" y="634.5" font-size="2.2" text-anchor="middle" fill="#DDD" class="w">Bromo</text>
<rect x="210.0" y="623.7" width="5.2" height="19.6" rx="1" fill="#707070" stroke="#555" stroke-width="0.3"/>
<text x="212.6" y="634.5" font-size="2.2" text-anchor="middle" fill="#DDD" class="w">ZZ</text>
<rect x="217.6" y="623.7" width="8.0" height="19.6" rx="1" fill="#707070" stroke="#555" stroke-width="0.3"/>
<text x="221.6" y="634.5" font-size="2.2" text-anchor="middle" fill="#DDD" class="w">TAZ</text>
<rect x="243.9" y="623.7" width="10.4" height="19.6" rx="1" fill="#707070" stroke="#555" stroke-width="0.3"/>
<text x="249.1" y="634.5" font-size="2.2" text-anchor="middle" fill="#DDD" class="w">Gln-rich</text>
<rect x="171.2" y="624.2" width="33.6" height="19.1" fill="#F5A90F" stroke="#B47A00" stroke-width="0.4"/>
<text x="188" y="635" font-size="2.6" text-anchor="middle" fill="#FFF" class="w">KAT</text>
<rect x="26.3" y="621.6" width="3.3" height="24" fill="#111"/>
<rect x="288" y="621.6" width="3.3" height="24" fill="#111"/>
<line x1="28.0" y1="645" x2="28.0" y2="646.8" stroke="#333" stroke-width="0.5"/>
<text x="28.0" y="655.4" font-size="7.4" text-anchor="middle" fill="#333">0</text>
<line x1="49.5" y1="645" x2="49.5" y2="646.8" stroke="#333" stroke-width="0.5"/>
<text x="49.5" y="655.4" font-size="7.4" text-anchor="middle" fill="#333">200</text>
<line x1="71.0" y1="645" x2="71.0" y2="646.8" stroke="#333" stroke-width="0.5"/>
<text x="71.0" y="655.4" font-size="7.4" text-anchor="middle" fill="#333">400</text>
<line x1="92.5" y1="645" x2="92.5" y2="646.8" stroke="#333" stroke-width="0.5"/>
<text x="92.5" y="655.4" font-size="7.4" text-anchor="middle" fill="#333">600</text>
<line x1="114.0" y1="645" x2="114.0" y2="646.8" stroke="#333" stroke-width="0.5"/>
<text x="114.0" y="655.4" font-size="7.4" text-anchor="middle" fill="#333">800</text>
<line x1="135.5" y1="645" x2="135.5" y2="646.8" stroke="#333" stroke-width="0.5"/>
<text x="135.5" y="655.4" font-size="7.4" text-anchor="middle" fill="#333">1,000</text>
<line x1="157.0" y1="645" x2="157.0" y2="646.8" stroke="#333" stroke-width="0.5"/>
<text x="157.0" y="655.4" font-size="7.4" text-anchor="middle" fill="#333">1,200</text>
<line x1="178.5" y1="645" x2="178.5" y2="646.8" stroke="#333" stroke-width="0.5"/>
<text x="178.5" y="655.4" font-size="7.4" text-anchor="middle" fill="#333">1,400</text>
<line x1="200.0" y1="645" x2="200.0" y2="646.8" stroke="#333" stroke-width="0.5"/>
<text x="200.0" y="655.4" font-size="7.4" text-anchor="middle" fill="#333">1,600</text>
<line x1="221.5" y1="645" x2="221.5" y2="646.8" stroke="#333" stroke-width="0.5"/>
<text x="221.5" y="655.4" font-size="7.4" text-anchor="middle" fill="#333">1,800</text>
<line x1="243.0" y1="645" x2="243.0" y2="646.8" stroke="#333" stroke-width="0.5"/>
<text x="243.0" y="655.4" font-size="7.4" text-anchor="middle" fill="#333">2,000</text>
<line x1="264.5" y1="645" x2="264.5" y2="646.8" stroke="#333" stroke-width="0.5"/>
<text x="264.5" y="655.4" font-size="7.4" text-anchor="middle" fill="#333">2,200</text>
<text x="289.6" y="655.4" font-size="7.4" text-anchor="middle" fill="#333">2,442</text>
<text x="301" y="655.4" font-size="7.4" fill="#333">aa</text>
<line x1="183.2" y1="572.6" x2="183.2" y2="625" stroke="#A3A3A3" stroke-width="2.4"/>
<circle cx="183.2" cy="572.6" r="5.3" fill="#8C82CC" stroke="#4A4A4A" stroke-width="0.7"/>
<line x1="189.6" y1="597.9" x2="189.6" y2="625" stroke="#A3A3A3" stroke-width="2.4"/>
<circle cx="189.6" cy="597.9" r="4.3" fill="#E0692E" stroke="#4A4A4A" stroke-width="0.7"/>
<line x1="139.8" y1="610.4" x2="139.8" y2="625" stroke="#A3A3A3" stroke-width="2.4"/>
<circle cx="139.8" cy="610.4" r="3.4" fill="#22A07A" stroke="#4A4A4A" stroke-width="0.7"/>
<line x1="175.0" y1="610.3" x2="175.0" y2="625" stroke="#A3A3A3" stroke-width="2.4"/>
<circle cx="175.0" cy="610.3" r="3.4" fill="#E0692E" stroke="#4A4A4A" stroke-width="0.7"/>
<line x1="182.4" y1="610.3" x2="182.4" y2="625" stroke="#A3A3A3" stroke-width="2.4"/>
<circle cx="182.4" cy="610.3" r="3.4" fill="#E0692E" stroke="#4A4A4A" stroke-width="0.7"/>
<line x1="188.7" y1="610.3" x2="188.7" y2="625" stroke="#A3A3A3" stroke-width="2.4"/>
<circle cx="188.7" cy="610.3" r="3.4" fill="#E0692E" stroke="#4A4A4A" stroke-width="0.7"/>
<circle cx="248" cy="571.6" r="2.5" fill="#E0692E" stroke="#444" stroke-width="0.6"/>
<text x="253" y="573.8" font-size="7.4" fill="#333">EPIC FL cases</text>
<circle cx="248" cy="581.0" r="2.5" fill="#6C6680" stroke="#444" stroke-width="0.6"/>
<text x="253" y="583.2" font-size="7.4" fill="#333">ACS FL cases</text>
<circle cx="248" cy="590.3" r="2.5" fill="#22A07A" stroke="#444" stroke-width="0.6"/>
<text x="253" y="592.5" font-size="7.4" fill="#333">EPIC controls</text>
<rect x="129" y="658.2" width="23" height="14.3" fill="#8DD6C0"/>
<text x="130.6" y="664.6" font-size="5.8" fill="#2E3A36">I1038M</text>
<text x="130.6" y="670.8" font-size="5.8" fill="#2E3A36">P1045S</text>
<rect x="164.6" y="658.2" width="53" height="38.8" fill="#FCEFD6"/>
<text x="166.2" y="663.9" font-size="5.8" fill="#222">V1371N</text>
<text x="166.2" y="670.1" font-size="5.8" fill="#222">L1434P</text>
<text x="166.2" y="676.3" font-size="5.8" fill="#222">R1446C</text>
<text x="166.2" y="682.5" font-size="5.8" fill="#222">R1446H</text>
<text x="166.2" y="688.7" font-size="5.8" fill="#222">Y1450D</text>
<text x="166.2" y="694.9" font-size="5.8" fill="#222">Y1450C</text>
<text x="192.6" y="663.9" font-size="5.8" fill="#222">F1484V</text>
<text x="192.6" y="670.1" font-size="5.8" fill="#222">I1493R</text>
<text x="192.6" y="676.3" font-size="5.8" fill="#222">W1502S</text>
<text x="192.6" y="682.5" font-size="5.8" fill="#222">Y1503F</text>
<text x="192.6" y="688.7" font-size="5.8" fill="#222">L1507P</text>
</g>
<g id="I">
<text x="311.6" y="557.6" font-size="10.0" font-weight="bold">I</text>
<text x="323.3" y="556.5" font-size="7.6" fill="#222">Localization of <tspan font-style="italic">CREBBP</tspan> mutations in prior FL studies</text>
<rect x="451.1" y="564" width="29.8" height="114.5" fill="#F7B215"/>
<text x="452.5" y="571" font-size="7.4" fill="#2A2000">KAT</text>
<text x="452.5" y="577.4" font-size="7.4" fill="#2A2000">domain</text>
<line x1="336.5" y1="563.8" x2="336.5" y2="679.0" stroke="#5A5A5A" stroke-width="1.0"/>
<line x1="336.0" y1="678.5" x2="507.3" y2="678.5" stroke="#5A5A5A" stroke-width="1.0"/>
<line x1="334.9" y1="678.0" x2="336.5" y2="678.0" stroke="#333" stroke-width="0.6"/>
<text x="333.6" y="680.7" font-size="7.7" text-anchor="end" fill="#222">0</text>
<line x1="334.9" y1="649.5" x2="336.5" y2="649.5" stroke="#333" stroke-width="0.6"/>
<text x="333.6" y="652.2" font-size="7.7" text-anchor="end" fill="#222">2</text>
<line x1="334.9" y1="621.0" x2="336.5" y2="621.0" stroke="#333" stroke-width="0.6"/>
<text x="333.6" y="623.7" font-size="7.7" text-anchor="end" fill="#222">4</text>
<line x1="334.9" y1="592.5" x2="336.5" y2="592.5" stroke="#333" stroke-width="0.6"/>
<text x="333.6" y="595.2" font-size="7.7" text-anchor="end" fill="#222">6</text>
<line x1="334.9" y1="564.0" x2="336.5" y2="564.0" stroke="#333" stroke-width="0.6"/>
<text x="333.6" y="566.7" font-size="7.7" text-anchor="end" fill="#222">8</text>
<line x1="337.2" y1="678.5" x2="337.2" y2="680.1" stroke="#333" stroke-width="0.6"/>
<text x="337.2" y="689.2" font-size="7.4" text-anchor="middle" fill="#222">0</text>
<line x1="379.7" y1="678.5" x2="379.7" y2="680.1" stroke="#333" stroke-width="0.6"/>
<text x="379.7" y="689.2" font-size="7.4" text-anchor="middle" fill="#222">500</text>
<line x1="422.2" y1="678.5" x2="422.2" y2="680.1" stroke="#333" stroke-width="0.6"/>
<text x="422.2" y="689.2" font-size="7.4" text-anchor="middle" fill="#222">1,000</text>
<line x1="464.7" y1="678.5" x2="464.7" y2="680.1" stroke="#333" stroke-width="0.6"/>
<text x="464.7" y="689.2" font-size="7.4" text-anchor="middle" fill="#222">1,500</text>
<line x1="507.2" y1="678.5" x2="507.2" y2="680.1" stroke="#333" stroke-width="0.6"/>
<text x="507.2" y="689.2" font-size="7.4" text-anchor="middle" fill="#222">2,000</text>
<text x="422.7" y="698.4" font-size="7.4" text-anchor="middle" fill="#222">Codon position</text>
<text transform="translate(323.0,618.0) rotate(-90)" font-size="7.4" text-anchor="middle" fill="#333">Percentage of cases</text>
<rect x="336.70" y="673.73" width="1.0" height="4.57" fill="#151515"/>
<rect x="337.63" y="673.73" width="1.0" height="4.57" fill="#151515"/>
<rect x="339.50" y="673.73" width="1.0" height="4.57" fill="#151515"/>
<rect x="340.44" y="673.73" width="1.0" height="4.57" fill="#151515"/>
<rect x="341.38" y="673.73" width="1.0" height="4.57" fill="#151515"/>
<rect x="344.35" y="673.73" width="1.0" height="4.57" fill="#151515"/>
<rect x="345.28" y="673.73" width="1.0" height="4.57" fill="#151515"/>
<rect x="346.22" y="673.73" width="1.0" height="4.57" fill="#151515"/>
<rect x="347.15" y="673.73" width="1.0" height="4.57" fill="#151515"/>
<rect x="348.09" y="673.73" width="1.0" height="4.57" fill="#151515"/>
<rect x="349.02" y="673.73" width="1.0" height="4.57" fill="#151515"/>
<rect x="349.96" y="673.73" width="1.0" height="4.57" fill="#151515"/>
<rect x="350.89" y="673.73" width="1.0" height="4.57" fill="#151515"/>
<rect x="351.83" y="673.73" width="1.0" height="4.57" fill="#151515"/>
<rect x="352.76" y="673.73" width="1.0" height="4.57" fill="#151515"/>
<rect x="355.57" y="673.73" width="1.0" height="4.57" fill="#151515"/>
<rect x="356.50" y="673.73" width="1.0" height="4.57" fill="#151515"/>
<rect x="359.48" y="673.73" width="1.0" height="4.57" fill="#151515"/>
<rect x="360.41" y="673.73" width="1.0" height="4.57" fill="#151515"/>
<rect x="361.35" y="673.73" width="1.0" height="4.57" fill="#151515"/>
<rect x="364.50" y="673.73" width="1.0" height="4.57" fill="#151515"/>
<rect x="365.43" y="673.73" width="1.0" height="4.57" fill="#151515"/>
<rect x="366.37" y="673.73" width="1.0" height="4.57" fill="#151515"/>
<rect x="369.51" y="673.73" width="1.0" height="4.57" fill="#151515"/>
<rect x="370.44" y="673.73" width="1.0" height="4.57" fill="#151515"/>
<rect x="383.28" y="673.73" width="1.0" height="4.57" fill="#151515"/>
<rect x="386.51" y="673.73" width="1.0" height="4.57" fill="#151515"/>
<rect x="387.44" y="673.73" width="1.0" height="4.57" fill="#151515"/>
<rect x="388.38" y="673.73" width="1.0" height="4.57" fill="#151515"/>
<rect x="389.31" y="673.73" width="1.0" height="4.57" fill="#151515"/>
<rect x="390.25" y="673.73" width="1.0" height="4.57" fill="#151515"/>
<rect x="391.19" y="673.73" width="1.0" height="4.57" fill="#151515"/>
<rect x="394.93" y="673.73" width="1.0" height="4.57" fill="#151515"/>
<rect x="395.86" y="673.73" width="1.0" height="4.57" fill="#151515"/>
<rect x="396.80" y="673.73" width="1.0" height="4.57" fill="#151515"/>
<rect x="399.51" y="673.73" width="1.0" height="4.57" fill="#151515"/>
<rect x="400.45" y="673.73" width="1.0" height="4.57" fill="#151515"/>
<rect x="402.32" y="673.73" width="1.0" height="4.57" fill="#151515"/>
<rect x="404.19" y="673.73" width="1.0" height="4.57" fill="#151515"/>
<rect x="407.59" y="673.73" width="1.0" height="4.57" fill="#151515"/>
<rect x="408.52" y="673.73" width="1.0" height="4.57" fill="#151515"/>
<rect x="410.39" y="673.73" width="1.0" height="4.57" fill="#151515"/>
<rect x="413.20" y="673.73" width="1.0" height="4.57" fill="#151515"/>
<rect x="414.13" y="673.73" width="1.0" height="4.57" fill="#151515"/>
<rect x="425.61" y="673.73" width="1.0" height="4.57" fill="#151515"/>
<rect x="426.55" y="673.73" width="1.0" height="4.57" fill="#151515"/>
<rect x="427.48" y="673.73" width="1.0" height="4.57" fill="#151515"/>
<rect x="430.28" y="673.73" width="1.0" height="4.57" fill="#151515"/>
<rect x="431.22" y="673.73" width="1.0" height="4.57" fill="#151515"/>
<rect x="432.15" y="673.73" width="1.0" height="4.57" fill="#151515"/>
<rect x="433.09" y="673.73" width="1.0" height="4.57" fill="#151515"/>
<rect x="439.55" y="673.73" width="1.0" height="4.57" fill="#151515"/>
<rect x="440.49" y="673.73" width="1.0" height="4.57" fill="#151515"/>
<rect x="441.42" y="673.73" width="1.0" height="4.57" fill="#151515"/>
<rect x="442.36" y="673.73" width="1.0" height="4.57" fill="#151515"/>
<rect x="443.29" y="673.73" width="1.0" height="4.57" fill="#151515"/>
<rect x="444.23" y="673.73" width="1.0" height="4.57" fill="#151515"/>
<rect x="445.16" y="673.73" width="1.0" height="4.57" fill="#151515"/>
<rect x="446.10" y="673.73" width="1.0" height="4.57" fill="#151515"/>
<rect x="447.03" y="673.73" width="1.0" height="4.57" fill="#151515"/>
<rect x="447.97" y="673.73" width="1.0" height="4.57" fill="#151515"/>
<rect x="448.90" y="673.73" width="1.0" height="4.57" fill="#151515"/>
<rect x="451.53" y="673.73" width="1.0" height="4.57" fill="#151515"/>
<rect x="452.47" y="673.73" width="1.0" height="4.57" fill="#151515"/>
<rect x="453.40" y="673.73" width="1.0" height="4.57" fill="#151515"/>
<rect x="454.34" y="673.73" width="1.0" height="4.57" fill="#151515"/>
<rect x="455.27" y="673.73" width="1.0" height="4.57" fill="#151515"/>
<rect x="456.21" y="673.73" width="1.0" height="4.57" fill="#151515"/>
<rect x="457.14" y="673.73" width="1.0" height="4.57" fill="#151515"/>
<rect x="458.08" y="673.73" width="1.0" height="4.57" fill="#151515"/>
<rect x="459.95" y="673.73" width="1.0" height="4.57" fill="#151515"/>
<rect x="460.88" y="673.73" width="1.0" height="4.57" fill="#151515"/>
<rect x="461.82" y="673.73" width="1.0" height="4.57" fill="#151515"/>
<rect x="462.75" y="673.73" width="1.0" height="4.57" fill="#151515"/>
<rect x="463.69" y="673.73" width="1.0" height="4.57" fill="#151515"/>
<rect x="464.62" y="673.73" width="1.0" height="4.57" fill="#151515"/>
<rect x="465.56" y="673.73" width="1.0" height="4.57" fill="#151515"/>
<rect x="466.50" y="673.73" width="1.0" height="4.57" fill="#151515"/>
<rect x="467.43" y="673.73" width="1.0" height="4.57" fill="#151515"/>
<rect x="468.37" y="673.73" width="1.0" height="4.57" fill="#151515"/>
<rect x="469.30" y="673.73" width="1.0" height="4.57" fill="#151515"/>
<rect x="470.24" y="673.73" width="1.0" height="4.57" fill="#151515"/>
<rect x="472.11" y="673.73" width="1.0" height="4.57" fill="#151515"/>
<rect x="473.04" y="673.73" width="1.0" height="4.57" fill="#151515"/>
<rect x="473.98" y="673.73" width="1.0" height="4.57" fill="#151515"/>
<rect x="474.91" y="673.73" width="1.0" height="4.57" fill="#151515"/>
<rect x="475.85" y="673.73" width="1.0" height="4.57" fill="#151515"/>
<rect x="476.78" y="673.73" width="1.0" height="4.57" fill="#151515"/>
<rect x="477.72" y="673.73" width="1.0" height="4.57" fill="#151515"/>
<rect x="478.65" y="673.73" width="1.0" height="4.57" fill="#151515"/>
<rect x="479.59" y="673.73" width="1.0" height="4.57" fill="#151515"/>
<rect x="480.52" y="673.73" width="1.0" height="4.57" fill="#151515"/>
<rect x="339.00" y="668.02" width="1.0" height="10.27" fill="#151515"/>
<rect x="341.97" y="663.04" width="1.0" height="15.26" fill="#151515"/>
<rect x="388.21" y="668.02" width="1.0" height="10.27" fill="#151515"/>
<rect x="425.78" y="668.02" width="1.0" height="10.27" fill="#151515"/>
<rect x="429.01" y="668.02" width="1.0" height="10.27" fill="#151515"/>
<rect x="432.50" y="668.02" width="1.0" height="10.27" fill="#151515"/>
<rect x="474.40" y="668.02" width="1.0" height="10.27" fill="#151515"/>
<rect x="477.72" y="668.02" width="1.0" height="10.27" fill="#151515"/>
<rect x="456.89" y="588.23" width="1.0" height="90.07" fill="#151515"/>
<rect x="460.20" y="592.50" width="1.0" height="85.80" fill="#151515"/>
<rect x="461.99" y="609.60" width="1.0" height="68.70" fill="#151515"/>
<rect x="465.22" y="609.60" width="1.0" height="68.70" fill="#151515"/>
<rect x="455.95" y="656.62" width="1.0" height="21.67" fill="#151515"/>
<rect x="458.00" y="660.90" width="1.0" height="17.40" fill="#151515"/>
<rect x="459.01" y="646.65" width="1.0" height="31.65" fill="#151515"/>
<rect x="460.97" y="655.20" width="1.0" height="23.10" fill="#151515"/>
<rect x="463.01" y="665.17" width="1.0" height="13.12" fill="#151515"/>
<rect x="459.69" y="663.75" width="1.0" height="14.55" fill="#151515"/>
<rect x="463.86" y="669.45" width="1.0" height="8.85" fill="#151515"/>
<rect x="454.00" y="670.88" width="1.0" height="7.42" fill="#151515"/>
<rect x="466.75" y="670.88" width="1.0" height="7.42" fill="#151515"/>
<circle cx="421.2" cy="588.0" r="22.2" fill="#F7B215" stroke="#8A6A10" stroke-width="0.5"/>
<path d="M421.20,588.00 L400.66,596.43 A22.20,22.20 0 0,1 421.20,565.80 Z" fill="#B7B7B7" stroke="#777" stroke-width="0.5"/>
<circle cx="421.2" cy="588.0" r="11.0" fill="#FFF" stroke="#777" stroke-width="0.4"/>
<text x="420.8" y="587.2" font-size="5.4" text-anchor="middle" fill="#333"><tspan font-style="italic">n</tspan> = 292</text>
<text x="419.6" y="592.6" font-size="5.4" text-anchor="middle" fill="#333">68.8%</text>
<rect x="373.4" y="566.3" width="4.8" height="3.0" fill="#F7B215" stroke="#9A7A20" stroke-width="0.4"/><text x="379" y="570.4" font-size="7.4" fill="#333">KAT</text>
<rect x="373.4" y="573.2" width="4.8" height="3.0" fill="#B7B7B7" stroke="#777" stroke-width="0.4"/><text x="379" y="577.2" font-size="7.4" fill="#333">Other</text>
</g>
</svg></body></html>
